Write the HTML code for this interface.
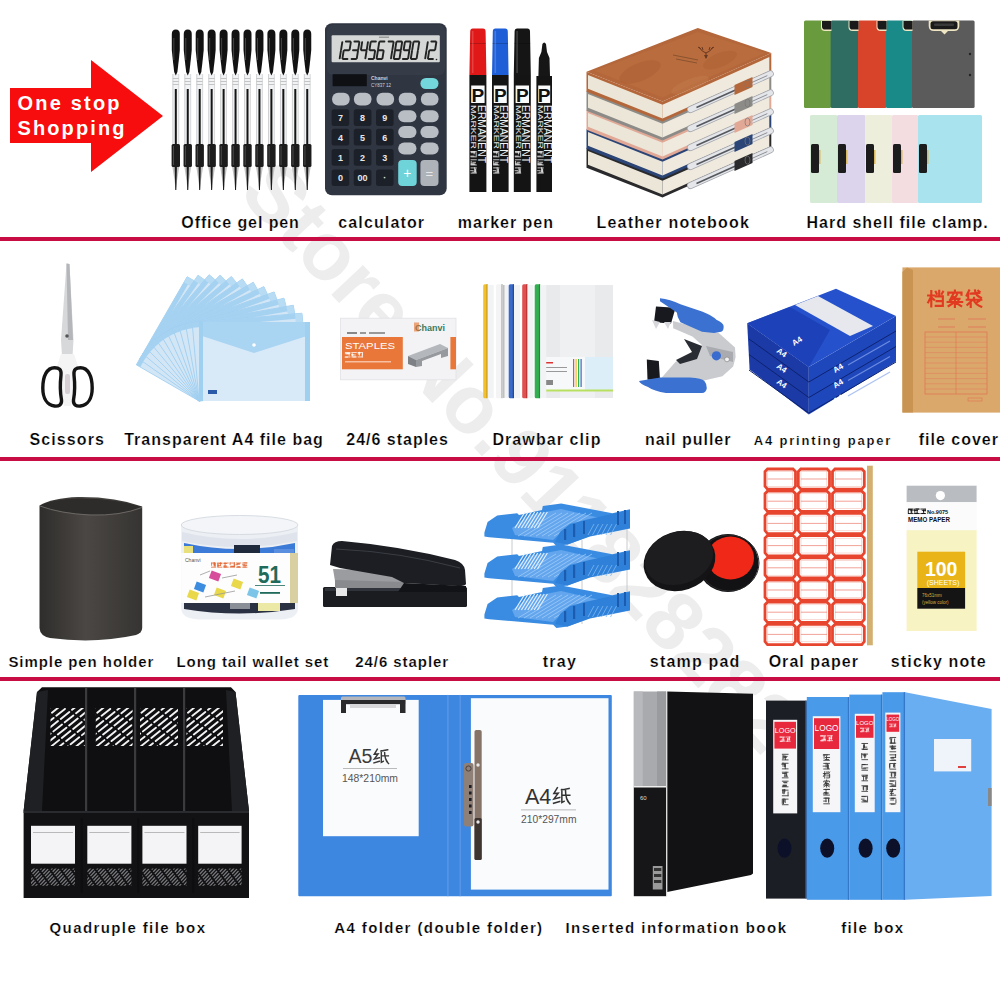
<!DOCTYPE html>
<html><head><meta charset="utf-8">
<style>
html,body{margin:0;padding:0;background:#fff;}
body{width:1000px;height:1000px;overflow:hidden;position:relative;}
svg{position:absolute;left:0;top:0;}
</style></head><body>
<svg width="1000" height="1000" viewBox="0 0 1000 1000">
<rect x="0" y="0" width="1000" height="1000" fill="#fff"/>
<g transform="rotate(-3 469 411)"><text transform="translate(249,182) rotate(50)" font-family="Liberation Sans" font-weight="bold" font-size="82" fill="#ededed">Store No.911828282</text></g>

<g id="pens"><g transform="translate(175.80,0)">
<rect x="-3.4" y="74" width="6.8" height="72" fill="#f2f3f4"/>
<rect x="-3.4" y="74" width="1" height="72" fill="#cfd1d3"/>
<rect x="2.4" y="74" width="1" height="72" fill="#d8dadc"/>
<rect x="-3" y="78" width="6" height="1" fill="#c4c4c4"/><rect x="-3" y="81" width="6" height="1" fill="#c4c4c4"/><rect x="-3" y="84" width="6" height="1" fill="#c4c4c4"/>
<rect x="-1" y="89" width="2" height="57" fill="#151515"/>
<path d="M-4 34 Q-4 29.5 0 29.5 Q4 29.5 4 34 L4 50 L3 60 L1.6 72 L0 75.5 L-1.6 72 L-3 60 L-4 50 Z" fill="#121212"/>
<rect x="-2.4" y="38" width="0.9" height="22" fill="#4a4a4a"/>
<rect x="-4.2" y="144" width="8.4" height="23" rx="1.5" fill="#1c1c1c"/>
<rect x="-2.8" y="146" width="1" height="19" fill="#4a4a4a"/>
<path d="M-3.4 167 L3.4 167 L1.2 181 L0.3 190 L-0.3 190 L-1.2 181 Z" fill="#c2c2c2"/>
<path d="M-1.1 167 L1.1 167 L0.5 190 L-0.5 190 Z" fill="#1a1a1a"/>
</g><g transform="translate(187.75,0)">
<rect x="-3.4" y="74" width="6.8" height="72" fill="#f2f3f4"/>
<rect x="-3.4" y="74" width="1" height="72" fill="#cfd1d3"/>
<rect x="2.4" y="74" width="1" height="72" fill="#d8dadc"/>
<rect x="-3" y="78" width="6" height="1" fill="#c4c4c4"/><rect x="-3" y="81" width="6" height="1" fill="#c4c4c4"/><rect x="-3" y="84" width="6" height="1" fill="#c4c4c4"/>
<rect x="-1" y="89" width="2" height="57" fill="#151515"/>
<path d="M-4 34 Q-4 29.5 0 29.5 Q4 29.5 4 34 L4 50 L3 60 L1.6 72 L0 75.5 L-1.6 72 L-3 60 L-4 50 Z" fill="#121212"/>
<rect x="-2.4" y="38" width="0.9" height="22" fill="#4a4a4a"/>
<rect x="-4.2" y="144" width="8.4" height="23" rx="1.5" fill="#1c1c1c"/>
<rect x="-2.8" y="146" width="1" height="19" fill="#4a4a4a"/>
<path d="M-3.4 167 L3.4 167 L1.2 181 L0.3 190 L-0.3 190 L-1.2 181 Z" fill="#c2c2c2"/>
<path d="M-1.1 167 L1.1 167 L0.5 190 L-0.5 190 Z" fill="#1a1a1a"/>
</g><g transform="translate(199.70,0)">
<rect x="-3.4" y="74" width="6.8" height="72" fill="#f2f3f4"/>
<rect x="-3.4" y="74" width="1" height="72" fill="#cfd1d3"/>
<rect x="2.4" y="74" width="1" height="72" fill="#d8dadc"/>
<rect x="-3" y="78" width="6" height="1" fill="#c4c4c4"/><rect x="-3" y="81" width="6" height="1" fill="#c4c4c4"/><rect x="-3" y="84" width="6" height="1" fill="#c4c4c4"/>
<rect x="-1" y="89" width="2" height="57" fill="#151515"/>
<path d="M-4 34 Q-4 29.5 0 29.5 Q4 29.5 4 34 L4 50 L3 60 L1.6 72 L0 75.5 L-1.6 72 L-3 60 L-4 50 Z" fill="#121212"/>
<rect x="-2.4" y="38" width="0.9" height="22" fill="#4a4a4a"/>
<rect x="-4.2" y="144" width="8.4" height="23" rx="1.5" fill="#1c1c1c"/>
<rect x="-2.8" y="146" width="1" height="19" fill="#4a4a4a"/>
<path d="M-3.4 167 L3.4 167 L1.2 181 L0.3 190 L-0.3 190 L-1.2 181 Z" fill="#c2c2c2"/>
<path d="M-1.1 167 L1.1 167 L0.5 190 L-0.5 190 Z" fill="#1a1a1a"/>
</g><g transform="translate(211.65,0)">
<rect x="-3.4" y="74" width="6.8" height="72" fill="#f2f3f4"/>
<rect x="-3.4" y="74" width="1" height="72" fill="#cfd1d3"/>
<rect x="2.4" y="74" width="1" height="72" fill="#d8dadc"/>
<rect x="-3" y="78" width="6" height="1" fill="#c4c4c4"/><rect x="-3" y="81" width="6" height="1" fill="#c4c4c4"/><rect x="-3" y="84" width="6" height="1" fill="#c4c4c4"/>
<rect x="-1" y="89" width="2" height="57" fill="#151515"/>
<path d="M-4 34 Q-4 29.5 0 29.5 Q4 29.5 4 34 L4 50 L3 60 L1.6 72 L0 75.5 L-1.6 72 L-3 60 L-4 50 Z" fill="#121212"/>
<rect x="-2.4" y="38" width="0.9" height="22" fill="#4a4a4a"/>
<rect x="-4.2" y="144" width="8.4" height="23" rx="1.5" fill="#1c1c1c"/>
<rect x="-2.8" y="146" width="1" height="19" fill="#4a4a4a"/>
<path d="M-3.4 167 L3.4 167 L1.2 181 L0.3 190 L-0.3 190 L-1.2 181 Z" fill="#c2c2c2"/>
<path d="M-1.1 167 L1.1 167 L0.5 190 L-0.5 190 Z" fill="#1a1a1a"/>
</g><g transform="translate(223.60,0)">
<rect x="-3.4" y="74" width="6.8" height="72" fill="#f2f3f4"/>
<rect x="-3.4" y="74" width="1" height="72" fill="#cfd1d3"/>
<rect x="2.4" y="74" width="1" height="72" fill="#d8dadc"/>
<rect x="-3" y="78" width="6" height="1" fill="#c4c4c4"/><rect x="-3" y="81" width="6" height="1" fill="#c4c4c4"/><rect x="-3" y="84" width="6" height="1" fill="#c4c4c4"/>
<rect x="-1" y="89" width="2" height="57" fill="#151515"/>
<path d="M-4 34 Q-4 29.5 0 29.5 Q4 29.5 4 34 L4 50 L3 60 L1.6 72 L0 75.5 L-1.6 72 L-3 60 L-4 50 Z" fill="#121212"/>
<rect x="-2.4" y="38" width="0.9" height="22" fill="#4a4a4a"/>
<rect x="-4.2" y="144" width="8.4" height="23" rx="1.5" fill="#1c1c1c"/>
<rect x="-2.8" y="146" width="1" height="19" fill="#4a4a4a"/>
<path d="M-3.4 167 L3.4 167 L1.2 181 L0.3 190 L-0.3 190 L-1.2 181 Z" fill="#c2c2c2"/>
<path d="M-1.1 167 L1.1 167 L0.5 190 L-0.5 190 Z" fill="#1a1a1a"/>
</g><g transform="translate(235.55,0)">
<rect x="-3.4" y="74" width="6.8" height="72" fill="#f2f3f4"/>
<rect x="-3.4" y="74" width="1" height="72" fill="#cfd1d3"/>
<rect x="2.4" y="74" width="1" height="72" fill="#d8dadc"/>
<rect x="-3" y="78" width="6" height="1" fill="#c4c4c4"/><rect x="-3" y="81" width="6" height="1" fill="#c4c4c4"/><rect x="-3" y="84" width="6" height="1" fill="#c4c4c4"/>
<rect x="-1" y="89" width="2" height="57" fill="#151515"/>
<path d="M-4 34 Q-4 29.5 0 29.5 Q4 29.5 4 34 L4 50 L3 60 L1.6 72 L0 75.5 L-1.6 72 L-3 60 L-4 50 Z" fill="#121212"/>
<rect x="-2.4" y="38" width="0.9" height="22" fill="#4a4a4a"/>
<rect x="-4.2" y="144" width="8.4" height="23" rx="1.5" fill="#1c1c1c"/>
<rect x="-2.8" y="146" width="1" height="19" fill="#4a4a4a"/>
<path d="M-3.4 167 L3.4 167 L1.2 181 L0.3 190 L-0.3 190 L-1.2 181 Z" fill="#c2c2c2"/>
<path d="M-1.1 167 L1.1 167 L0.5 190 L-0.5 190 Z" fill="#1a1a1a"/>
</g><g transform="translate(247.50,0)">
<rect x="-3.4" y="74" width="6.8" height="72" fill="#f2f3f4"/>
<rect x="-3.4" y="74" width="1" height="72" fill="#cfd1d3"/>
<rect x="2.4" y="74" width="1" height="72" fill="#d8dadc"/>
<rect x="-3" y="78" width="6" height="1" fill="#c4c4c4"/><rect x="-3" y="81" width="6" height="1" fill="#c4c4c4"/><rect x="-3" y="84" width="6" height="1" fill="#c4c4c4"/>
<rect x="-1" y="89" width="2" height="57" fill="#151515"/>
<path d="M-4 34 Q-4 29.5 0 29.5 Q4 29.5 4 34 L4 50 L3 60 L1.6 72 L0 75.5 L-1.6 72 L-3 60 L-4 50 Z" fill="#121212"/>
<rect x="-2.4" y="38" width="0.9" height="22" fill="#4a4a4a"/>
<rect x="-4.2" y="144" width="8.4" height="23" rx="1.5" fill="#1c1c1c"/>
<rect x="-2.8" y="146" width="1" height="19" fill="#4a4a4a"/>
<path d="M-3.4 167 L3.4 167 L1.2 181 L0.3 190 L-0.3 190 L-1.2 181 Z" fill="#c2c2c2"/>
<path d="M-1.1 167 L1.1 167 L0.5 190 L-0.5 190 Z" fill="#1a1a1a"/>
</g><g transform="translate(259.45,0)">
<rect x="-3.4" y="74" width="6.8" height="72" fill="#f2f3f4"/>
<rect x="-3.4" y="74" width="1" height="72" fill="#cfd1d3"/>
<rect x="2.4" y="74" width="1" height="72" fill="#d8dadc"/>
<rect x="-3" y="78" width="6" height="1" fill="#c4c4c4"/><rect x="-3" y="81" width="6" height="1" fill="#c4c4c4"/><rect x="-3" y="84" width="6" height="1" fill="#c4c4c4"/>
<rect x="-1" y="89" width="2" height="57" fill="#151515"/>
<path d="M-4 34 Q-4 29.5 0 29.5 Q4 29.5 4 34 L4 50 L3 60 L1.6 72 L0 75.5 L-1.6 72 L-3 60 L-4 50 Z" fill="#121212"/>
<rect x="-2.4" y="38" width="0.9" height="22" fill="#4a4a4a"/>
<rect x="-4.2" y="144" width="8.4" height="23" rx="1.5" fill="#1c1c1c"/>
<rect x="-2.8" y="146" width="1" height="19" fill="#4a4a4a"/>
<path d="M-3.4 167 L3.4 167 L1.2 181 L0.3 190 L-0.3 190 L-1.2 181 Z" fill="#c2c2c2"/>
<path d="M-1.1 167 L1.1 167 L0.5 190 L-0.5 190 Z" fill="#1a1a1a"/>
</g><g transform="translate(271.40,0)">
<rect x="-3.4" y="74" width="6.8" height="72" fill="#f2f3f4"/>
<rect x="-3.4" y="74" width="1" height="72" fill="#cfd1d3"/>
<rect x="2.4" y="74" width="1" height="72" fill="#d8dadc"/>
<rect x="-3" y="78" width="6" height="1" fill="#c4c4c4"/><rect x="-3" y="81" width="6" height="1" fill="#c4c4c4"/><rect x="-3" y="84" width="6" height="1" fill="#c4c4c4"/>
<rect x="-1" y="89" width="2" height="57" fill="#151515"/>
<path d="M-4 34 Q-4 29.5 0 29.5 Q4 29.5 4 34 L4 50 L3 60 L1.6 72 L0 75.5 L-1.6 72 L-3 60 L-4 50 Z" fill="#121212"/>
<rect x="-2.4" y="38" width="0.9" height="22" fill="#4a4a4a"/>
<rect x="-4.2" y="144" width="8.4" height="23" rx="1.5" fill="#1c1c1c"/>
<rect x="-2.8" y="146" width="1" height="19" fill="#4a4a4a"/>
<path d="M-3.4 167 L3.4 167 L1.2 181 L0.3 190 L-0.3 190 L-1.2 181 Z" fill="#c2c2c2"/>
<path d="M-1.1 167 L1.1 167 L0.5 190 L-0.5 190 Z" fill="#1a1a1a"/>
</g><g transform="translate(283.35,0)">
<rect x="-3.4" y="74" width="6.8" height="72" fill="#f2f3f4"/>
<rect x="-3.4" y="74" width="1" height="72" fill="#cfd1d3"/>
<rect x="2.4" y="74" width="1" height="72" fill="#d8dadc"/>
<rect x="-3" y="78" width="6" height="1" fill="#c4c4c4"/><rect x="-3" y="81" width="6" height="1" fill="#c4c4c4"/><rect x="-3" y="84" width="6" height="1" fill="#c4c4c4"/>
<rect x="-1" y="89" width="2" height="57" fill="#151515"/>
<path d="M-4 34 Q-4 29.5 0 29.5 Q4 29.5 4 34 L4 50 L3 60 L1.6 72 L0 75.5 L-1.6 72 L-3 60 L-4 50 Z" fill="#121212"/>
<rect x="-2.4" y="38" width="0.9" height="22" fill="#4a4a4a"/>
<rect x="-4.2" y="144" width="8.4" height="23" rx="1.5" fill="#1c1c1c"/>
<rect x="-2.8" y="146" width="1" height="19" fill="#4a4a4a"/>
<path d="M-3.4 167 L3.4 167 L1.2 181 L0.3 190 L-0.3 190 L-1.2 181 Z" fill="#c2c2c2"/>
<path d="M-1.1 167 L1.1 167 L0.5 190 L-0.5 190 Z" fill="#1a1a1a"/>
</g><g transform="translate(295.30,0)">
<rect x="-3.4" y="74" width="6.8" height="72" fill="#f2f3f4"/>
<rect x="-3.4" y="74" width="1" height="72" fill="#cfd1d3"/>
<rect x="2.4" y="74" width="1" height="72" fill="#d8dadc"/>
<rect x="-3" y="78" width="6" height="1" fill="#c4c4c4"/><rect x="-3" y="81" width="6" height="1" fill="#c4c4c4"/><rect x="-3" y="84" width="6" height="1" fill="#c4c4c4"/>
<rect x="-1" y="89" width="2" height="57" fill="#151515"/>
<path d="M-4 34 Q-4 29.5 0 29.5 Q4 29.5 4 34 L4 50 L3 60 L1.6 72 L0 75.5 L-1.6 72 L-3 60 L-4 50 Z" fill="#121212"/>
<rect x="-2.4" y="38" width="0.9" height="22" fill="#4a4a4a"/>
<rect x="-4.2" y="144" width="8.4" height="23" rx="1.5" fill="#1c1c1c"/>
<rect x="-2.8" y="146" width="1" height="19" fill="#4a4a4a"/>
<path d="M-3.4 167 L3.4 167 L1.2 181 L0.3 190 L-0.3 190 L-1.2 181 Z" fill="#c2c2c2"/>
<path d="M-1.1 167 L1.1 167 L0.5 190 L-0.5 190 Z" fill="#1a1a1a"/>
</g><g transform="translate(307.25,0)">
<rect x="-3.4" y="74" width="6.8" height="72" fill="#f2f3f4"/>
<rect x="-3.4" y="74" width="1" height="72" fill="#cfd1d3"/>
<rect x="2.4" y="74" width="1" height="72" fill="#d8dadc"/>
<rect x="-3" y="78" width="6" height="1" fill="#c4c4c4"/><rect x="-3" y="81" width="6" height="1" fill="#c4c4c4"/><rect x="-3" y="84" width="6" height="1" fill="#c4c4c4"/>
<rect x="-1" y="89" width="2" height="57" fill="#151515"/>
<path d="M-4 34 Q-4 29.5 0 29.5 Q4 29.5 4 34 L4 50 L3 60 L1.6 72 L0 75.5 L-1.6 72 L-3 60 L-4 50 Z" fill="#121212"/>
<rect x="-2.4" y="38" width="0.9" height="22" fill="#4a4a4a"/>
<rect x="-4.2" y="144" width="8.4" height="23" rx="1.5" fill="#1c1c1c"/>
<rect x="-2.8" y="146" width="1" height="19" fill="#4a4a4a"/>
<path d="M-3.4 167 L3.4 167 L1.2 181 L0.3 190 L-0.3 190 L-1.2 181 Z" fill="#c2c2c2"/>
<path d="M-1.1 167 L1.1 167 L0.5 190 L-0.5 190 Z" fill="#1a1a1a"/>
</g></g><g id="calc"><rect x="325" y="23.3" width="121.7" height="172" rx="7" fill="#2f3541"/><rect x="327" y="25" width="118" height="50" rx="6" fill="#353b47"/><rect x="331.6" y="35.3" width="108.2" height="27" rx="1" fill="#d4d7d6"/><path d="M342.29 42.20 L341.11 49.55 M340.89 50.95 L339.71 58.30 M345.85 41.50 L350.25 41.50 M350.84 42.20 L349.66 49.55 M343.05 59.00 L347.45 59.00 M343.64 50.95 L342.46 58.30 M344.45 50.25 L348.85 50.25 M354.40 41.50 L358.80 41.50 M359.39 42.20 L358.21 49.55 M357.99 50.95 L356.81 58.30 M351.60 59.00 L356.00 59.00 M353.00 50.25 L357.40 50.25 M367.94 42.20 L366.76 49.55 M366.54 50.95 L365.36 58.30 M362.14 42.20 L360.96 49.55 M361.55 50.25 L365.95 50.25 M371.50 41.50 L375.90 41.50 M375.09 50.95 L373.91 58.30 M368.70 59.00 L373.10 59.00 M370.69 42.20 L369.51 49.55 M370.10 50.25 L374.50 50.25 M380.05 41.50 L384.45 41.50 M383.64 50.95 L382.46 58.30 M377.25 59.00 L381.65 59.00 M377.84 50.95 L376.66 58.30 M379.24 42.20 L378.06 49.55 M378.65 50.25 L383.05 50.25 M388.60 41.50 L393.00 41.50 M393.59 42.20 L392.41 49.55 M392.19 50.95 L391.01 58.30 M397.15 41.50 L401.55 41.50 M402.14 42.20 L400.96 49.55 M400.74 50.95 L399.56 58.30 M394.35 59.00 L398.75 59.00 M394.94 50.95 L393.76 58.30 M396.34 42.20 L395.16 49.55 M395.75 50.25 L400.15 50.25 M405.70 41.50 L410.10 41.50 M410.69 42.20 L409.51 49.55 M409.29 50.95 L408.11 58.30 M402.90 59.00 L407.30 59.00 M404.89 42.20 L403.71 49.55 M404.30 50.25 L408.70 50.25 M414.25 41.50 L418.65 41.50 M419.24 42.20 L418.06 49.55 M417.84 50.95 L416.66 58.30 M411.45 59.00 L415.85 59.00 M412.04 50.95 L410.86 58.30 M413.44 42.20 L412.26 49.55 M427.79 42.20 L426.61 49.55 M426.39 50.95 L425.21 58.30 M431.35 41.50 L435.75 41.50 M436.34 42.20 L435.16 49.55 M428.55 59.00 L432.95 59.00 M429.14 50.95 L427.96 58.30 M429.95 50.25 L434.35 50.25" stroke="#242424" stroke-width="1.9" stroke-linecap="round" fill="none"/><circle cx="436.5" cy="59.5" r="0.8" fill="#262626"/><rect x="379" y="36.5" width="10" height="1.5" fill="#9a9c9c"/><rect x="332.6" y="74.2" width="34.2" height="12" fill="#0e1014"/><text x="371" y="80" font-family="Liberation Sans" font-weight="bold" font-size="5" fill="#cfd3d8">Chanvi</text><text x="371" y="87" font-family="Liberation Sans" font-size="4.5" fill="#cfd3d8">CY837 12</text><rect x="420.4" y="77.9" width="18.1" height="11.1" rx="5.5" fill="#72d6da"/><rect x="332.1" y="92.7" width="17.6" height="12.9" rx="6" fill="#b9bec4"/><rect x="353.9" y="92.7" width="17.6" height="12.9" rx="6" fill="#b9bec4"/><rect x="376.5" y="92.7" width="17.6" height="12.9" rx="6" fill="#b9bec4"/><rect x="398.7" y="92.7" width="17.6" height="12.9" rx="6" fill="#b9bec4"/><rect x="420.9" y="92.7" width="17.6" height="12.9" rx="6" fill="#b9bec4"/><rect x="331.6" y="109.3" width="17.6" height="16.7" rx="2.5" fill="#1c2028"/><text x="340.40000000000003" y="121.3" text-anchor="middle" font-family="Liberation Sans" font-weight="bold" font-size="9" fill="#e8e8e8">7</text><rect x="353.8" y="109.3" width="17.6" height="16.7" rx="2.5" fill="#1c2028"/><text x="362.6" y="121.3" text-anchor="middle" font-family="Liberation Sans" font-weight="bold" font-size="9" fill="#e8e8e8">8</text><rect x="376" y="109.3" width="17.6" height="16.7" rx="2.5" fill="#1c2028"/><text x="384.8" y="121.3" text-anchor="middle" font-family="Liberation Sans" font-weight="bold" font-size="9" fill="#e8e8e8">9</text><rect x="331.6" y="128.7" width="17.6" height="16.7" rx="2.5" fill="#1c2028"/><text x="340.40000000000003" y="140.7" text-anchor="middle" font-family="Liberation Sans" font-weight="bold" font-size="9" fill="#e8e8e8">4</text><rect x="353.8" y="128.7" width="17.6" height="16.7" rx="2.5" fill="#1c2028"/><text x="362.6" y="140.7" text-anchor="middle" font-family="Liberation Sans" font-weight="bold" font-size="9" fill="#e8e8e8">5</text><rect x="376" y="128.7" width="17.6" height="16.7" rx="2.5" fill="#1c2028"/><text x="384.8" y="140.7" text-anchor="middle" font-family="Liberation Sans" font-weight="bold" font-size="9" fill="#e8e8e8">6</text><rect x="331.6" y="149" width="17.6" height="16.7" rx="2.5" fill="#1c2028"/><text x="340.40000000000003" y="161" text-anchor="middle" font-family="Liberation Sans" font-weight="bold" font-size="9" fill="#e8e8e8">1</text><rect x="353.8" y="149" width="17.6" height="16.7" rx="2.5" fill="#1c2028"/><text x="362.6" y="161" text-anchor="middle" font-family="Liberation Sans" font-weight="bold" font-size="9" fill="#e8e8e8">2</text><rect x="376" y="149" width="17.6" height="16.7" rx="2.5" fill="#1c2028"/><text x="384.8" y="161" text-anchor="middle" font-family="Liberation Sans" font-weight="bold" font-size="9" fill="#e8e8e8">3</text><rect x="331.6" y="169.4" width="17.6" height="16.7" rx="2.5" fill="#1c2028"/><text x="340.40000000000003" y="181.4" text-anchor="middle" font-family="Liberation Sans" font-weight="bold" font-size="9" fill="#e8e8e8">0</text><rect x="353.8" y="169.4" width="17.6" height="16.7" rx="2.5" fill="#1c2028"/><text x="362.6" y="181.4" text-anchor="middle" font-family="Liberation Sans" font-weight="bold" font-size="9" fill="#e8e8e8">00</text><rect x="376" y="169.4" width="17.6" height="16.7" rx="2.5" fill="#1c2028"/><text x="384.8" y="181.4" text-anchor="middle" font-family="Liberation Sans" font-weight="bold" font-size="9" fill="#e8e8e8">·</text><rect x="398.2" y="110.2" width="18.3" height="12" rx="6" fill="#b9bec4"/><rect x="420.4" y="110.2" width="18.3" height="12" rx="6" fill="#b9bec4"/><rect x="398.2" y="126" width="18.3" height="12" rx="6" fill="#b9bec4"/><rect x="420.4" y="126" width="18.3" height="12" rx="6" fill="#b9bec4"/><rect x="398.2" y="142.6" width="18.3" height="12" rx="6" fill="#b9bec4"/><rect x="420.4" y="142.6" width="18.3" height="12" rx="6" fill="#b9bec4"/><rect x="398.2" y="160" width="18.5" height="26" rx="4" fill="#6fd3da"/><text x="407.4" y="178" text-anchor="middle" font-family="Liberation Sans" font-size="14" fill="#fff">+</text><rect x="420.4" y="160" width="18.1" height="26" rx="4" fill="#aeb3b9"/><text x="429.4" y="178" text-anchor="middle" font-family="Liberation Sans" font-size="13" fill="#e8e8e8">=</text></g><g id="markers"><rect x="469.4" y="75" width="17.0" height="117" fill="#141414"/><path d="M470.2 31.5 Q470.2 28.5 472.9 28.5 L482.9 28.5 Q485.59999999999997 28.5 485.59999999999997 31.5 L486.4 75 L469.4 75 Z" fill="#e01818"/><rect x="469.9" y="43" width="16.0" height="0.8" fill="#000" opacity="0.25"/><rect x="471.9" y="31" width="1.6" height="42" fill="#fff" opacity="0.18"/><rect x="471.2" y="85.5" width="13.4" height="17.5" fill="#fafafa"/><text x="477.9" y="101.5" text-anchor="middle" font-family="Liberation Sans" font-weight="bold" font-size="19" fill="#111">P</text><text transform="translate(477.9,105) rotate(90)" font-family="Liberation Sans" font-size="10" fill="#f4f4f4" textLength="58" lengthAdjust="spacingAndGlyphs">ERMANENT</text><text transform="translate(471.09999999999997,105) rotate(90)" font-family="Liberation Sans" font-size="7" fill="#e4e4e4" textLength="44" lengthAdjust="spacingAndGlyphs">MARKER</text><path transform="translate(470.42,151.00) scale(6.50)" d="M0.57 0.09 L0.57 0.44 M0.07 0.79 L0.54 0.79 M0.14 0.26 L0.68 0.26 M0.11 0.12 L0.66 0.12 M0.89 0.28 L0.89 0.75 M0.1 0.1 L0.9 0.1 M0.1 0.9 L0.9 0.9" fill="none" stroke="#e4e4e4" stroke-width="0.13" stroke-linecap="square"/><path transform="translate(470.42,159.12) scale(6.50)" d="M0.37 0.49 L0.78 0.49 M0.22 0.77 L0.69 0.77 M0.11 0.75 L0.48 0.75 M0.37 0.78 L0.67 0.78 M0.12 0.35 L0.12 0.79 M0.1 0.1 L0.9 0.1 M0.1 0.9 L0.9 0.9" fill="none" stroke="#e4e4e4" stroke-width="0.13" stroke-linecap="square"/><path transform="translate(470.42,167.25) scale(6.50)" d="M0.77 0.37 L0.77 0.74 M0.36 0.76 L0.87 0.76 M0.64 0.08 L0.64 0.68 M0.82 0.25 L0.82 0.67 M0.05 0.53 L0.42 0.53 M0.1 0.1 L0.9 0.1 M0.1 0.9 L0.9 0.9" fill="none" stroke="#e4e4e4" stroke-width="0.13" stroke-linecap="square"/><rect x="492" y="75" width="16.600000000000023" height="117" fill="#141414"/><path d="M492.8 31.5 Q492.8 28.5 495.5 28.5 L505.1 28.5 Q507.8 28.5 507.8 31.5 L508.6 75 L492 75 Z" fill="#1e5fd8"/><rect x="492.5" y="43" width="15.600000000000023" height="0.8" fill="#000" opacity="0.25"/><rect x="494.5" y="31" width="1.6" height="42" fill="#fff" opacity="0.18"/><rect x="493.8" y="85.5" width="13.000000000000023" height="17.5" fill="#fafafa"/><text x="500.3" y="101.5" text-anchor="middle" font-family="Liberation Sans" font-weight="bold" font-size="19" fill="#111">P</text><text transform="translate(500.3,105) rotate(90)" font-family="Liberation Sans" font-size="10" fill="#f4f4f4" textLength="58" lengthAdjust="spacingAndGlyphs">ERMANENT</text><text transform="translate(493.66,105) rotate(90)" font-family="Liberation Sans" font-size="7" fill="#e4e4e4" textLength="44" lengthAdjust="spacingAndGlyphs">MARKER</text><path transform="translate(493.00,151.00) scale(6.50)" d="M0.57 0.09 L0.57 0.44 M0.07 0.79 L0.54 0.79 M0.14 0.26 L0.68 0.26 M0.11 0.12 L0.66 0.12 M0.89 0.28 L0.89 0.75 M0.1 0.1 L0.9 0.1 M0.1 0.9 L0.9 0.9" fill="none" stroke="#e4e4e4" stroke-width="0.13" stroke-linecap="square"/><path transform="translate(493.00,159.12) scale(6.50)" d="M0.37 0.49 L0.78 0.49 M0.22 0.77 L0.69 0.77 M0.11 0.75 L0.48 0.75 M0.37 0.78 L0.67 0.78 M0.12 0.35 L0.12 0.79 M0.1 0.1 L0.9 0.1 M0.1 0.9 L0.9 0.9" fill="none" stroke="#e4e4e4" stroke-width="0.13" stroke-linecap="square"/><path transform="translate(493.00,167.25) scale(6.50)" d="M0.77 0.37 L0.77 0.74 M0.36 0.76 L0.87 0.76 M0.64 0.08 L0.64 0.68 M0.82 0.25 L0.82 0.67 M0.05 0.53 L0.42 0.53 M0.1 0.1 L0.9 0.1 M0.1 0.9 L0.9 0.9" fill="none" stroke="#e4e4e4" stroke-width="0.13" stroke-linecap="square"/><rect x="513.8" y="75" width="17.0" height="117" fill="#141414"/><path d="M514.5999999999999 31.5 Q514.5999999999999 28.5 517.3 28.5 L527.3 28.5 Q530.0 28.5 530.0 31.5 L530.8 75 L513.8 75 Z" fill="#151515"/><rect x="514.3" y="43" width="16.0" height="0.8" fill="#000" opacity="0.25"/><rect x="516.3" y="31" width="1.6" height="42" fill="#fff" opacity="0.18"/><rect x="515.5999999999999" y="85.5" width="13.4" height="17.5" fill="#fafafa"/><text x="522.3" y="101.5" text-anchor="middle" font-family="Liberation Sans" font-weight="bold" font-size="19" fill="#111">P</text><text transform="translate(522.3,105) rotate(90)" font-family="Liberation Sans" font-size="10" fill="#f4f4f4" textLength="58" lengthAdjust="spacingAndGlyphs">ERMANENT</text><text transform="translate(515.5,105) rotate(90)" font-family="Liberation Sans" font-size="7" fill="#e4e4e4" textLength="44" lengthAdjust="spacingAndGlyphs">MARKER</text><path transform="translate(514.82,151.00) scale(6.50)" d="M0.57 0.09 L0.57 0.44 M0.07 0.79 L0.54 0.79 M0.14 0.26 L0.68 0.26 M0.11 0.12 L0.66 0.12 M0.89 0.28 L0.89 0.75 M0.1 0.1 L0.9 0.1 M0.1 0.9 L0.9 0.9" fill="none" stroke="#e4e4e4" stroke-width="0.13" stroke-linecap="square"/><path transform="translate(514.82,159.12) scale(6.50)" d="M0.37 0.49 L0.78 0.49 M0.22 0.77 L0.69 0.77 M0.11 0.75 L0.48 0.75 M0.37 0.78 L0.67 0.78 M0.12 0.35 L0.12 0.79 M0.1 0.1 L0.9 0.1 M0.1 0.9 L0.9 0.9" fill="none" stroke="#e4e4e4" stroke-width="0.13" stroke-linecap="square"/><path transform="translate(514.82,167.25) scale(6.50)" d="M0.77 0.37 L0.77 0.74 M0.36 0.76 L0.87 0.76 M0.64 0.08 L0.64 0.68 M0.82 0.25 L0.82 0.67 M0.05 0.53 L0.42 0.53 M0.1 0.1 L0.9 0.1 M0.1 0.9 L0.9 0.9" fill="none" stroke="#e4e4e4" stroke-width="0.13" stroke-linecap="square"/><rect x="536.4" y="76" width="15.600000000000023" height="116" fill="#141414"/><path d="M538.4 76 L538.9 58 L541.4 52 L542.4 44 Q544.2 41 546 44 L547 52 L549.5 58 L550 76 Z" fill="#161616"/><rect x="538.1999999999999" y="85.5" width="12.000000000000023" height="17.5" fill="#fafafa"/><text x="544.2" y="101.5" text-anchor="middle" font-family="Liberation Sans" font-weight="bold" font-size="19" fill="#111">P</text><text transform="translate(544.2,105) rotate(90)" font-family="Liberation Sans" font-size="10" fill="#f4f4f4" textLength="58" lengthAdjust="spacingAndGlyphs">ERMANENT</text><text transform="translate(537.96,105) rotate(90)" font-family="Liberation Sans" font-size="7" fill="#e4e4e4" textLength="44" lengthAdjust="spacingAndGlyphs">MARKER</text><path transform="translate(537.34,151.00) scale(6.50)" d="M0.57 0.09 L0.57 0.44 M0.07 0.79 L0.54 0.79 M0.14 0.26 L0.68 0.26 M0.11 0.12 L0.66 0.12 M0.89 0.28 L0.89 0.75 M0.1 0.1 L0.9 0.1 M0.1 0.9 L0.9 0.9" fill="none" stroke="#e4e4e4" stroke-width="0.13" stroke-linecap="square"/><path transform="translate(537.34,159.12) scale(6.50)" d="M0.37 0.49 L0.78 0.49 M0.22 0.77 L0.69 0.77 M0.11 0.75 L0.48 0.75 M0.37 0.78 L0.67 0.78 M0.12 0.35 L0.12 0.79 M0.1 0.1 L0.9 0.1 M0.1 0.9 L0.9 0.9" fill="none" stroke="#e4e4e4" stroke-width="0.13" stroke-linecap="square"/><path transform="translate(537.34,167.25) scale(6.50)" d="M0.77 0.37 L0.77 0.74 M0.36 0.76 L0.87 0.76 M0.64 0.08 L0.64 0.68 M0.82 0.25 L0.82 0.67 M0.05 0.53 L0.42 0.53 M0.1 0.1 L0.9 0.1 M0.1 0.9 L0.9 0.9" fill="none" stroke="#e4e4e4" stroke-width="0.13" stroke-linecap="square"/></g><g id="notebooks"><polygon points="586.5,147.7 662.5,177.5 771.3,129.0 771.3,149.0 662.5,197.5 586.5,167.7" fill="#2a2a2c" /><polygon points="588.0,150.9 662.5,180.7 662.5,194.5 588.0,164.7" fill="#ebe6d8" /><polygon points="662.5,180.7 769.3,133.1 769.3,146.9 662.5,194.5" fill="#efeadd" /><line x1="690.5" y1="185.5" x2="770.3" y2="149.9" stroke="#a4a7ad" stroke-width="7" stroke-linecap="round"/><line x1="690.5" y1="185.5" x2="770.3" y2="149.9" stroke="#e4e6ea" stroke-width="5.4" stroke-linecap="round"/><line x1="696.5" y1="183.4" x2="735.5" y2="166.0" stroke="#55585e" stroke-width="1.6"/><line x1="740.5" y1="163.5" x2="767.3" y2="151.6" stroke="#8d9096" stroke-width="1"/><polygon points="734.5,160.9 752.5,152.9 752.5,162.9 734.5,170.9" fill="#2a2a2c"/><ellipse cx="747.5" cy="160.1" rx="2.5" ry="4" fill="none" stroke="#777" stroke-width="0.7"/><polygon points="586.5,128.7 662.5,158.5 771.3,110.0 771.3,130.0 662.5,178.5 586.5,148.7" fill="#2b4577" /><polygon points="588.0,131.9 662.5,161.7 662.5,175.5 588.0,145.7" fill="#ebe6d8" /><polygon points="662.5,161.7 769.3,114.1 769.3,127.9 662.5,175.5" fill="#efeadd" /><line x1="690.5" y1="166.5" x2="770.3" y2="130.9" stroke="#a4a7ad" stroke-width="7" stroke-linecap="round"/><line x1="690.5" y1="166.5" x2="770.3" y2="130.9" stroke="#e4e6ea" stroke-width="5.4" stroke-linecap="round"/><line x1="696.5" y1="164.4" x2="735.5" y2="147.0" stroke="#55585e" stroke-width="1.6"/><line x1="740.5" y1="144.5" x2="767.3" y2="132.6" stroke="#8d9096" stroke-width="1"/><polygon points="734.5,141.9 752.5,133.9 752.5,143.9 734.5,151.9" fill="#2b4577"/><ellipse cx="747.5" cy="141.1" rx="2.5" ry="4" fill="none" stroke="#777" stroke-width="0.7"/><polygon points="586.5,109.7 662.5,139.5 771.3,91.0 771.3,111.0 662.5,159.5 586.5,129.7" fill="#e2a896" /><polygon points="588.0,112.9 662.5,142.7 662.5,156.5 588.0,126.7" fill="#ebe6d8" /><polygon points="662.5,142.7 769.3,95.1 769.3,108.9 662.5,156.5" fill="#efeadd" /><line x1="690.5" y1="147.5" x2="770.3" y2="111.9" stroke="#a4a7ad" stroke-width="7" stroke-linecap="round"/><line x1="690.5" y1="147.5" x2="770.3" y2="111.9" stroke="#e4e6ea" stroke-width="5.4" stroke-linecap="round"/><line x1="696.5" y1="145.4" x2="735.5" y2="128.0" stroke="#55585e" stroke-width="1.6"/><line x1="740.5" y1="125.5" x2="767.3" y2="113.6" stroke="#8d9096" stroke-width="1"/><polygon points="734.5,122.9 752.5,114.9 752.5,124.9 734.5,132.9" fill="#e2a896"/><ellipse cx="747.5" cy="122.1" rx="2.5" ry="4" fill="none" stroke="#777" stroke-width="0.7"/><polygon points="586.5,90.7 662.5,120.5 771.3,72.0 771.3,92.0 662.5,140.5 586.5,110.7" fill="#8c8b88" /><polygon points="588.0,93.9 662.5,123.7 662.5,137.5 588.0,107.7" fill="#ebe6d8" /><polygon points="662.5,123.7 769.3,76.1 769.3,89.9 662.5,137.5" fill="#efeadd" /><line x1="690.5" y1="128.5" x2="770.3" y2="92.9" stroke="#a4a7ad" stroke-width="7" stroke-linecap="round"/><line x1="690.5" y1="128.5" x2="770.3" y2="92.9" stroke="#e4e6ea" stroke-width="5.4" stroke-linecap="round"/><line x1="696.5" y1="126.4" x2="735.5" y2="109.0" stroke="#55585e" stroke-width="1.6"/><line x1="740.5" y1="106.5" x2="767.3" y2="94.6" stroke="#8d9096" stroke-width="1"/><polygon points="734.5,103.9 752.5,95.9 752.5,105.9 734.5,113.9" fill="#8c8b88"/><ellipse cx="747.5" cy="103.1" rx="2.5" ry="4" fill="none" stroke="#777" stroke-width="0.7"/><polygon points="586.5,71.7 662.5,101.5 771.3,53.0 771.3,73.0 662.5,121.5 586.5,91.7" fill="#b4673a" /><polygon points="588.0,74.9 662.5,104.7 662.5,118.5 588.0,88.7" fill="#ebe6d8" /><polygon points="662.5,104.7 769.3,57.1 769.3,70.9 662.5,118.5" fill="#efeadd" /><line x1="690.5" y1="109.5" x2="770.3" y2="73.9" stroke="#a4a7ad" stroke-width="7" stroke-linecap="round"/><line x1="690.5" y1="109.5" x2="770.3" y2="73.9" stroke="#e4e6ea" stroke-width="5.4" stroke-linecap="round"/><line x1="696.5" y1="107.4" x2="735.5" y2="90.0" stroke="#55585e" stroke-width="1.6"/><line x1="740.5" y1="87.5" x2="767.3" y2="75.6" stroke="#8d9096" stroke-width="1"/><polygon points="734.5,84.9 752.5,76.9 752.5,86.9 734.5,94.9" fill="#b4673a"/><ellipse cx="747.5" cy="84.1" rx="2.5" ry="4" fill="none" stroke="#777" stroke-width="0.7"/><polygon points="586.5,71.7 697.8,28.0 771.3,53.0 662.5,101.5" fill="#b4673a" /><polygon points="594.5,70.7 697.8,32.0 765.3,53.0 662.5,97.5" fill="#bd7040" opacity="0.6"/><ellipse cx="640" cy="72" rx="22" ry="9" transform="rotate(-22 640 72)" fill="#a45a30" opacity="0.35"/><ellipse cx="720" cy="60" rx="18" ry="7" transform="rotate(-22 720 60)" fill="#a45a30" opacity="0.3"/><ellipse cx="690" cy="85" rx="20" ry="6" transform="rotate(-22 690 85)" fill="#c98052" opacity="0.35"/><path d="M699 47 Q702 52 706 53 Q710 52 713 47 M701 49 l-3 -2 M711 49 l3 -2 M703 50 l-1 -3 M709 50 l1 -3 M706 53 l0 5" stroke="#6a3820" stroke-width="1" fill="none"/><path d="M704 55 L708 55 L706 59 Z" fill="#6a3820"/><path d="M673 55 L698 60 M676 59 L697 63" stroke="#7e4c2c" stroke-width="0.8"/></g><g id="clipboards"><rect x="804" y="20.5" width="27" height="87.5" rx="1.5" fill="#6a9a3e"/><rect x="830.6" y="20.5" width="27.899999999999977" height="87.5" rx="1.5" fill="#2f6d62"/><rect x="858" y="20.5" width="28.5" height="87.5" rx="1.5" fill="#d8442a"/><rect x="886" y="20.5" width="26.5" height="87.5" rx="1.5" fill="#198a87"/><rect x="912" y="20.5" width="62.60000000000002" height="87.5" rx="1.5" fill="#5b5b5c"/><path d="M821 20.5 L821 27 Q821 31 825 31 L831.5 31 L831.5 20.5 Z" fill="#efe6c4"/><path d="M822 21 L822 26.5 Q822 29.6 825 29.6 L831.5 29.6 L831.5 21 Z" fill="#1a1a1a"/><path d="M848.5 20.5 L848.5 27 Q848.5 31 852.5 31 L858.5 31 L858.5 20.5 Z" fill="#efe6c4"/><path d="M849.5 21 L849.5 26.5 Q849.5 29.6 852.5 29.6 L858.5 29.6 L858.5 21 Z" fill="#1a1a1a"/><path d="M876.5 20.5 L876.5 27 Q876.5 31 880.5 31 L886.5 31 L886.5 20.5 Z" fill="#efe6c4"/><path d="M877.5 21 L877.5 26.5 Q877.5 29.6 880.5 29.6 L886.5 29.6 L886.5 21 Z" fill="#1a1a1a"/><path d="M902.5 20.5 L902.5 27 Q902.5 31 906.5 31 L912.5 31 L912.5 20.5 Z" fill="#efe6c4"/><path d="M903.5 21 L903.5 26.5 Q903.5 29.6 906.5 29.6 L912.5 29.6 L912.5 21 Z" fill="#1a1a1a"/><path d="M928.7 20.5 L928.7 26 Q928.7 31 934 31 L954 31 Q959.3 31 959.3 26 L959.3 20.5 Z" fill="#efe6c4"/><path d="M941 31 L944.5 34.5 L948 31 Z" fill="#efe6c4"/><rect x="930.5" y="21.3" width="27" height="8" rx="2.5" fill="#1a1a1a"/><rect x="934" y="23.5" width="20" height="2.5" rx="1" fill="#3a3a3a"/><circle cx="970" cy="54" r="1.2" fill="#222"/><circle cx="970" cy="75" r="1.2" fill="#222"/><rect x="810" y="115" width="27.5" height="88" rx="1.5" fill="#d6ebd6"/><rect x="837" y="115" width="28.5" height="88" rx="1.5" fill="#dcd3ec"/><rect x="865" y="115" width="27.5" height="88" rx="1.5" fill="#eeeedc"/><rect x="892" y="115" width="26.5" height="88" rx="1.5" fill="#f4dde1"/><rect x="918" y="115" width="64" height="88" rx="1.5" fill="#a9e3ee"/><rect x="811" y="144" width="8" height="29" rx="1.5" fill="#1c1c1c"/><rect x="819" y="150" width="1.5" height="14" fill="#d8b860"/><rect x="838" y="144" width="8" height="29" rx="1.5" fill="#1c1c1c"/><rect x="846" y="150" width="1.5" height="14" fill="#d8b860"/><rect x="866" y="144" width="8" height="29" rx="1.5" fill="#1c1c1c"/><rect x="874" y="150" width="1.5" height="14" fill="#d8b860"/><rect x="893" y="144" width="8" height="29" rx="1.5" fill="#1c1c1c"/><rect x="901" y="150" width="1.5" height="14" fill="#d8b860"/><rect x="919" y="144" width="8" height="29" rx="1.5" fill="#1c1c1c"/><rect x="927" y="150" width="1.5" height="14" fill="#d8b860"/></g><g id="scissors"><path d="M66.5 263.5 L69.5 264 L73.5 340 L72.5 356 L62 356 L61 340 Z" fill="#d6d8da"/><path d="M66.5 263.5 L69.5 264 L73 340 L68 340 Z" fill="#b4b6b9"/><circle cx="67" cy="336" r="1.8" fill="#555"/><path d="M61 354 L74 354 L78 366 L71 406 L64 406 L57 366 Z" fill="#f4f4f4"/><path d="M54.5 367.8 C59 367.8 61.6 369.5 61 375 C60.2 382 60 392 61.5 400 C62 405 58.5 406.5 54.5 406 C47 405 42.8 398 42.8 388 C42.8 376 47 367.8 54.5 367.8 Z" fill="#fff" stroke="#141414" stroke-width="3.4"/><path d="M80.5 367.8 C76 367.8 73.4 369.5 74 375 C74.8 382 75 392 73.5 400 C73 405 76.5 406.5 80.5 406 C88 405 92.2 398 92.2 388 C92.2 376 88 367.8 80.5 367.8 Z" fill="#fff" stroke="#141414" stroke-width="3.4"/><rect x="65" y="374" width="5" height="20" rx="2" fill="#d6d0d4"/></g><g id="filebags"><g transform="translate(199 401) rotate(-60.0) scale(0.916) translate(-199 -401)"><rect x="199" y="322" width="111" height="79" fill="#d2e6f6" stroke="#9ccdf0" stroke-width="0.8"/><rect x="199" y="322" width="111" height="5" fill="#a6d2f2"/><rect x="303" y="322" width="7" height="79" fill="#b8dcf4"/></g><g transform="translate(199 401) rotate(-55.0) scale(0.923) translate(-199 -401)"><rect x="199" y="322" width="111" height="79" fill="#d2e6f6" stroke="#9ccdf0" stroke-width="0.8"/><rect x="199" y="322" width="111" height="5" fill="#a6d2f2"/><rect x="303" y="322" width="7" height="79" fill="#b8dcf4"/></g><g transform="translate(199 401) rotate(-50.0) scale(0.930) translate(-199 -401)"><rect x="199" y="322" width="111" height="79" fill="#d2e6f6" stroke="#9ccdf0" stroke-width="0.8"/><rect x="199" y="322" width="111" height="5" fill="#a6d2f2"/><rect x="303" y="322" width="7" height="79" fill="#b8dcf4"/></g><g transform="translate(199 401) rotate(-45.0) scale(0.937) translate(-199 -401)"><rect x="199" y="322" width="111" height="79" fill="#d2e6f6" stroke="#9ccdf0" stroke-width="0.8"/><rect x="199" y="322" width="111" height="5" fill="#a6d2f2"/><rect x="303" y="322" width="7" height="79" fill="#b8dcf4"/></g><g transform="translate(199 401) rotate(-40.0) scale(0.944) translate(-199 -401)"><rect x="199" y="322" width="111" height="79" fill="#d2e6f6" stroke="#9ccdf0" stroke-width="0.8"/><rect x="199" y="322" width="111" height="5" fill="#a6d2f2"/><rect x="303" y="322" width="7" height="79" fill="#b8dcf4"/></g><g transform="translate(199 401) rotate(-35.0) scale(0.951) translate(-199 -401)"><rect x="199" y="322" width="111" height="79" fill="#d2e6f6" stroke="#9ccdf0" stroke-width="0.8"/><rect x="199" y="322" width="111" height="5" fill="#a6d2f2"/><rect x="303" y="322" width="7" height="79" fill="#b8dcf4"/></g><g transform="translate(199 401) rotate(-30.0) scale(0.958) translate(-199 -401)"><rect x="199" y="322" width="111" height="79" fill="#d2e6f6" stroke="#9ccdf0" stroke-width="0.8"/><rect x="199" y="322" width="111" height="5" fill="#a6d2f2"/><rect x="303" y="322" width="7" height="79" fill="#b8dcf4"/></g><g transform="translate(199 401) rotate(-25.0) scale(0.965) translate(-199 -401)"><rect x="199" y="322" width="111" height="79" fill="#d2e6f6" stroke="#9ccdf0" stroke-width="0.8"/><rect x="199" y="322" width="111" height="5" fill="#a6d2f2"/><rect x="303" y="322" width="7" height="79" fill="#b8dcf4"/></g><g transform="translate(199 401) rotate(-20.0) scale(0.972) translate(-199 -401)"><rect x="199" y="322" width="111" height="79" fill="#d2e6f6" stroke="#9ccdf0" stroke-width="0.8"/><rect x="199" y="322" width="111" height="5" fill="#a6d2f2"/><rect x="303" y="322" width="7" height="79" fill="#b8dcf4"/></g><g transform="translate(199 401) rotate(-15.0) scale(0.979) translate(-199 -401)"><rect x="199" y="322" width="111" height="79" fill="#d2e6f6" stroke="#9ccdf0" stroke-width="0.8"/><rect x="199" y="322" width="111" height="5" fill="#a6d2f2"/><rect x="303" y="322" width="7" height="79" fill="#b8dcf4"/></g><g transform="translate(199 401) rotate(-10.0) scale(0.986) translate(-199 -401)"><rect x="199" y="322" width="111" height="79" fill="#d2e6f6" stroke="#9ccdf0" stroke-width="0.8"/><rect x="199" y="322" width="111" height="5" fill="#a6d2f2"/><rect x="303" y="322" width="7" height="79" fill="#b8dcf4"/></g><g transform="translate(199 401) rotate(-5.0) scale(0.993) translate(-199 -401)"><rect x="199" y="322" width="111" height="79" fill="#d2e6f6" stroke="#9ccdf0" stroke-width="0.8"/><rect x="199" y="322" width="111" height="5" fill="#a6d2f2"/><rect x="303" y="322" width="7" height="79" fill="#b8dcf4"/></g><rect x="199" y="322" width="111" height="79" fill="#d8eaf8"/><path d="M199 322 L310 322 L310 335 L254 353 L199 335 Z" fill="#a9d4f2"/><rect x="199" y="322" width="4" height="79" fill="#a0d0f0"/><rect x="305" y="322" width="5" height="79" fill="#a0d0f0"/><circle cx="254" cy="345" r="1.8" fill="#fff"/><rect x="208" y="390" width="9" height="4" fill="#2a5aa8"/></g><g id="staples"><rect x="340.5" y="318.2" width="115.5" height="61.6" fill="#f3f3f5" stroke="#e2e2e6" stroke-width="0.8"/><rect x="342" y="337" width="60.8" height="32.3" fill="#e9773a"/><rect x="450.4" y="337" width="5.6" height="32.3" fill="#e9773a"/><text x="345" y="349" font-family="Liberation Sans" font-size="9.5" fill="#fff" textLength="50" lengthAdjust="spacingAndGlyphs">STAPLES</text><path transform="translate(345.00,352.00) scale(5.50)" d="M0.39 0.27 L0.87 0.27 M0.18 0.35 L0.62 0.35 M0.06 0.21 L0.60 0.21 M0.03 0.93 L0.46 0.93 M0.76 0.18 L0.76 0.59 M0.1 0.1 L0.9 0.1 M0.1 0.9 L0.9 0.9" fill="none" stroke="#fff" stroke-width="0.14" stroke-linecap="square"/><path transform="translate(351.32,352.00) scale(5.50)" d="M0.15 0.34 L0.15 0.65 M0.19 0.38 L0.19 0.71 M0.27 0.54 L0.71 0.54 M0.33 0.90 L0.73 0.90 M0.05 0.50 L0.35 0.50 M0.1 0.1 L0.9 0.1 M0.1 0.9 L0.9 0.9" fill="none" stroke="#fff" stroke-width="0.14" stroke-linecap="square"/><path transform="translate(357.65,352.00) scale(5.50)" d="M0.07 0.19 L0.45 0.19 M0.32 0.06 L0.32 0.58 M0.89 0.23 L0.89 0.59 M0.83 0.39 L0.83 0.87 M0.25 0.10 L0.25 0.46 M0.1 0.1 L0.9 0.1 M0.1 0.9 L0.9 0.9" fill="none" stroke="#fff" stroke-width="0.14" stroke-linecap="square"/><rect x="345" y="361" width="46" height="1.5" fill="#f8c0a0"/><text x="415" y="331" font-family="Liberation Sans" font-weight="bold" font-size="9" fill="#3a7a60">Chanvi</text><rect x="414" y="322.5" width="5" height="9" fill="#e8702a" opacity="0.6"/><path d="M408 356 L440 344 L448 348 L416 360 Z" fill="#b4b7bb"/><path d="M408 356 L416 360 L416 367 L408 364 Z" fill="#7d8085"/><path d="M416 360 L448 348 L448 356 L441 358 L441 354 L422 361 L422 366 L416 367 Z" fill="#96999e"/><rect x="347" y="332" width="10" height="2" fill="#888"/><rect x="360" y="332" width="6" height="2" fill="#999"/><rect x="369" y="332" width="16" height="2" fill="#999"/></g><g id="drawbar"><rect x="540" y="285" width="73" height="113" fill="#e9eaec"/><rect x="560" y="285" width="35" height="113" fill="#eef0f2"/><rect x="541" y="357" width="72" height="33" fill="#f6f8fa"/><rect x="585" y="357" width="28" height="33" fill="#dceef8"/><rect x="573.0" y="359" width="1.2" height="28" fill="#e05050"/><rect x="575.5" y="359" width="1.2" height="28" fill="#f0c030"/><rect x="578.0" y="359" width="1.2" height="28" fill="#30b050"/><rect x="580.5" y="359" width="1.2" height="28" fill="#3a6ac8"/><rect x="545" y="362" width="8" height="1.5" fill="#d33"/><rect x="545" y="367" width="22" height="1" fill="#999"/><rect x="545" y="371" width="22" height="1" fill="#999"/><rect x="545" y="380" width="8" height="5" fill="#888"/><rect x="541" y="389.5" width="72" height="2" fill="#b8e060"/><rect x="483.2" y="284.2" width="4.5" height="114" rx="1.5" fill="#f0c030"/><rect x="486.4" y="284.2" width="1.3" height="114" fill="#c89a18"/><rect x="487.7" y="285" width="6" height="113" fill="#f2f3f5"/><rect x="496" y="284.2" width="6.699999999999989" height="114" rx="1.5" fill="#f4f4f4"/><rect x="501.4" y="284.2" width="1.3" height="114" fill="#aaaaaa"/><rect x="502.7" y="285" width="6" height="113" fill="#f2f3f5"/><rect x="508.7" y="284.2" width="5.300000000000011" height="114" rx="1.5" fill="#3a6ac8"/><rect x="512.7" y="284.2" width="1.3" height="114" fill="#24489a"/><rect x="514" y="285" width="6" height="113" fill="#f2f3f5"/><rect x="522.2" y="284.2" width="5.2999999999999545" height="114" rx="1.5" fill="#e05050"/><rect x="526.2" y="284.2" width="1.3" height="114" fill="#b83030"/><rect x="527.5" y="285" width="6" height="113" fill="#f2f3f5"/><rect x="534.7" y="284.2" width="5.5" height="114" rx="1.5" fill="#30b050"/><rect x="538.9000000000001" y="284.2" width="1.3" height="114" fill="#1f8a38"/><rect x="540.2" y="285" width="6" height="113" fill="#f2f3f5"/><rect x="502.7" y="285" width="1.8" height="113" fill="#c0c0c0"/></g><g id="nailpuller"><path d="M673 321 L718.8 333 L735 347.4 L735.6 357 L733.2 366.6 L722.4 376.2 L702 381 L658.8 381 L675.6 361.8 L697.2 352.2 L702 345 L692.4 336.6 L673.2 328.2 Z" fill="#c9cbcf"/><path d="M684 339 L702 346 L697 359 L680 364 L676 360 L692 352 Z" fill="#2a2c34"/><path d="M706 346 L733 352 L733 362 L710 356 Z" fill="#a9abb0"/><path d="M656 306.6 L675.6 307.8 L671 323.4 L654 322.2 Z" fill="#17191e"/><path d="M652 320 L656 329 L660 322 Z M664 322 L668 329 L671 322 Z" fill="#d8d8dc"/><path d="M646.8 359.4 L658.8 361 L660 379.8 L647.5 379.8 Z" fill="#17191e"/><path d="M660 298.2 Q670 299 680.4 304.2 L702 311.4 Q712 315 716.4 319.8 Q723 323 723.6 325.8 Q724 331 721.2 331.8 L714 333 L702 331.8 L680.4 322.2 Q677 317 676.8 312.6 L660 301.2 Z" fill="#3b72d2"/><path d="M639 381 L660 377.4 L690 377.4 Q702 378 704.4 381 Q707 384 706.8 388.2 Q706 393 702 393 L666 393 Q654 391 648 387 Q640 384 639 381 Z" fill="#3b72d2"/><circle cx="716.4" cy="355.8" r="4.6" fill="#3a6cd0"/><circle cx="727" cy="359.4" r="2.4" fill="#f2f2f2" stroke="#888" stroke-width="0.7"/></g><g id="a4paper"><polygon points="747.2,323.2 808.8,367 808.8,414.4 749.6,369.6" fill="#1b3aa6"/><polygon points="808.8,367 896,316 896,361.6 808.8,414.4" fill="#1f47bc"/><polygon points="747.2,323.2 836,288.8 896,316 808.8,367" fill="#2552cc"/><polygon points="795,305 818,296 873,326 850,336" fill="#e6e8ee"/><polygon points="747.2,323.2 790,307 830,330 808.8,367" fill="#1c3eb4" opacity="0.85"/><line x1="749" y1="339.0" x2="808.8" y2="382.0" stroke="#0d2270" stroke-width="1"/><line x1="808.8" y1="382.0" x2="896" y2="331.0" stroke="#0d2270" stroke-width="1"/><text x="776" y="352.0" font-family="Liberation Sans" font-weight="bold" font-size="8" fill="#fff" transform="rotate(34 776 352.0)">A4</text><text x="835" y="373.0" font-family="Liberation Sans" font-weight="bold" font-size="8" fill="#fff" transform="rotate(-30 835 373.0)">A4</text><line x1="848" y1="365.0" x2="890" y2="341.0" stroke="#8aa8f0" stroke-width="1.2" opacity="0.7"/><line x1="749" y1="354.5" x2="808.8" y2="397.5" stroke="#0d2270" stroke-width="1"/><line x1="808.8" y1="397.5" x2="896" y2="346.5" stroke="#0d2270" stroke-width="1"/><text x="776" y="367.5" font-family="Liberation Sans" font-weight="bold" font-size="8" fill="#fff" transform="rotate(34 776 367.5)">A4</text><text x="835" y="388.5" font-family="Liberation Sans" font-weight="bold" font-size="8" fill="#fff" transform="rotate(-30 835 388.5)">A4</text><line x1="848" y1="380.5" x2="890" y2="356.5" stroke="#8aa8f0" stroke-width="1.2" opacity="0.7"/><line x1="749" y1="370.0" x2="808.8" y2="413.0" stroke="#0d2270" stroke-width="1"/><line x1="808.8" y1="413.0" x2="896" y2="362.0" stroke="#0d2270" stroke-width="1"/><text x="776" y="383.0" font-family="Liberation Sans" font-weight="bold" font-size="8" fill="#fff" transform="rotate(34 776 383.0)">A4</text><text x="835" y="404.0" font-family="Liberation Sans" font-weight="bold" font-size="8" fill="#fff" transform="rotate(-30 835 404.0)">A4</text><line x1="848" y1="396.0" x2="890" y2="372.0" stroke="#8aa8f0" stroke-width="1.2" opacity="0.7"/><text x="794" y="346" font-family="Liberation Sans" font-weight="bold" font-size="8" fill="#fff" transform="rotate(-32 794 346)">A4</text></g><g id="filecover"><rect x="902.4" y="267.4" width="97.6" height="145.2" fill="#dba86c"/><path d="M902.4 272 L907 267.4 L913 270 L913 412.6 L902.4 412.6 Z" fill="#c99352"/><path transform="translate(927.50,290.50) scale(16.50)" d="M0.04 0.3 L0.42 0.3 M0.23 0.04 L0.23 0.96 M0.22 0.36 L0.04 0.72 M0.25 0.42 L0.4 0.56 M0.5 0.08 L0.56 0.2 M0.71 0.02 L0.71 0.26 M0.94 0.08 L0.87 0.2 M0.5 0.36 L0.93 0.36 L0.93 0.93 L0.5 0.93 M0.55 0.64 L0.93 0.64" fill="none" stroke="#e23a20" stroke-width="0.13" stroke-linecap="square"/><path transform="translate(946.64,290.50) scale(16.50)" d="M0.5 0 L0.5 0.1 M0.1 0.25 L0.1 0.13 L0.9 0.13 L0.9 0.25 M0.42 0.18 L0.25 0.5 L0.78 0.5 M0.62 0.26 Q0.56 0.46 0.2 0.6 M0.36 0.36 L0.72 0.58 M0.06 0.7 L0.94 0.7 M0.5 0.56 L0.5 1 M0.47 0.72 L0.12 0.94 M0.53 0.72 L0.88 0.94" fill="none" stroke="#e23a20" stroke-width="0.13" stroke-linecap="square"/><path transform="translate(965.78,290.50) scale(16.50)" d="M0.2 0 L0.05 0.3 M0.15 0.16 L0.15 0.46 M0.3 0.19 L0.82 0.14 M0.56 0 Q0.6 0.3 0.92 0.44 M0.76 0.02 L0.84 0.08 M0.5 0.44 L0.5 0.52 M0.06 0.56 L0.94 0.56 M0.42 0.56 L0.1 0.86 M0.3 0.72 L0.3 1 M0.5 0.62 Q0.62 0.86 0.94 0.98 M0.82 0.62 L0.6 0.76" fill="none" stroke="#e23a20" stroke-width="0.13" stroke-linecap="square"/><line x1="938" y1="319" x2="955" y2="319" stroke="#e06a50" stroke-width="0.7"/><line x1="968" y1="319" x2="986" y2="319" stroke="#e06a50" stroke-width="0.7"/><line x1="938" y1="327" x2="955" y2="327" stroke="#e06a50" stroke-width="0.7"/><line x1="968" y1="327" x2="986" y2="327" stroke="#e06a50" stroke-width="0.7"/><rect x="925" y="332" width="62" height="62" fill="none" stroke="#e07050" stroke-width="0.7"/><line x1="925" y1="337.0" x2="987" y2="337.0" stroke="#e07a5a" stroke-width="0.5"/><line x1="925" y1="342.2" x2="987" y2="342.2" stroke="#e07a5a" stroke-width="0.5"/><line x1="925" y1="347.4" x2="987" y2="347.4" stroke="#e07a5a" stroke-width="0.5"/><line x1="925" y1="352.6" x2="987" y2="352.6" stroke="#e07a5a" stroke-width="0.5"/><line x1="925" y1="357.8" x2="987" y2="357.8" stroke="#e07a5a" stroke-width="0.5"/><line x1="925" y1="363.0" x2="987" y2="363.0" stroke="#e07a5a" stroke-width="0.5"/><line x1="925" y1="368.2" x2="987" y2="368.2" stroke="#e07a5a" stroke-width="0.5"/><line x1="925" y1="373.4" x2="987" y2="373.4" stroke="#e07a5a" stroke-width="0.5"/><line x1="925" y1="378.6" x2="987" y2="378.6" stroke="#e07a5a" stroke-width="0.5"/><line x1="925" y1="383.8" x2="987" y2="383.8" stroke="#e07a5a" stroke-width="0.5"/><line x1="925" y1="389.0" x2="987" y2="389.0" stroke="#e07a5a" stroke-width="0.5"/><line x1="956" y1="332" x2="956" y2="394" stroke="#e07050" stroke-width="0.6"/><rect x="968" y="398" width="14" height="3" fill="none" stroke="#e07050" stroke-width="0.6"/></g><g id="penholder"><defs><linearGradient id="phg" x1="0" x2="1" y1="0" y2="0"><stop offset="0" stop-color="#2f2d2b"/><stop offset="0.45" stop-color="#4a4744"/><stop offset="1" stop-color="#363432"/></linearGradient></defs><path d="M39.5 505.5 Q52 498 78 497 Q115 496.5 142.2 506.5 L142.2 628 Q142 633 136 635 Q95 644 50 638 Q40 636 39.5 628 Z" fill="url(#phg)"/><path d="M40.5 505.5 Q53 499.5 78 498.5 Q114 498 141.2 507 Q120 516 90 514.5 Q60 513 40.5 505.5 Z" fill="#2e2c2a"/><path d="M40 506 Q60 513.5 90 515 Q120 516 142 507.5" fill="none" stroke="#6a6764" stroke-width="1"/></g><g id="clipjar"><path d="M181.2 526 L181.2 608 Q181.2 619 200 619.5 L280 619.5 Q298 619 298 608 L298 526 Z" fill="#eceff3"/><ellipse cx="239.6" cy="525" rx="58.4" ry="9.5" fill="#f3f5f8" stroke="#d4d9e0" stroke-width="0.9"/><path d="M182 532 Q239.6 546 297 532 L297 541 Q239.6 553 182 541 Z" fill="#dfe4ec"/><path d="M184 543 Q239.6 555 295 543 L295 556 L184 556 Z" fill="#3b7ad6"/><rect x="234" y="545" width="26" height="11" fill="#1f2a3c"/><rect x="184" y="546" width="9" height="9" fill="#e8e07a"/><rect x="274" y="549" width="20" height="7" fill="#5a8fe0"/><path d="M184 602 L295 602 L295 609 Q239.6 618 184 609 Z" fill="#2a3142"/><rect x="258" y="602" width="22" height="9" fill="#ece8a6"/><rect x="230" y="603" width="20" height="6" fill="#8a8e96"/><rect x="181.2" y="553" width="109" height="50" fill="#fdfdfd"/><rect x="290" y="553" width="8" height="50" fill="#d8d0a0"/><path transform="translate(211.00,562.50) scale(5.20)" d="M0.85 0.23 L0.85 0.69 M0.12 0.14 L0.12 0.54 M0.59 0.01 L0.59 0.40 M0.65 0.09 L0.65 0.64 M0.63 0.22 L0.63 0.68 M0.1 0.1 L0.9 0.1 M0.1 0.9 L0.9 0.9" fill="none" stroke="#e0602a" stroke-width="0.15" stroke-linecap="square"/><path transform="translate(217.24,562.50) scale(5.20)" d="M0.18 0.58 L0.60 0.58 M0.36 0.22 L0.88 0.22 M0.18 0.33 L0.18 0.80 M0.64 0.05 L0.64 0.53 M0.09 0.17 L0.09 0.75 M0.1 0.1 L0.9 0.1 M0.1 0.9 L0.9 0.9" fill="none" stroke="#e0602a" stroke-width="0.15" stroke-linecap="square"/><path transform="translate(223.48,562.50) scale(5.20)" d="M0.13 0.60 L0.49 0.60 M0.12 0.85 L0.46 0.85 M0.31 0.10 L0.31 0.44 M0.10 0.20 L0.59 0.20 M0.12 0.82 L0.62 0.82 M0.1 0.1 L0.9 0.1 M0.1 0.9 L0.9 0.9" fill="none" stroke="#e0602a" stroke-width="0.15" stroke-linecap="square"/><path transform="translate(229.72,562.50) scale(5.20)" d="M0.88 0.29 L0.88 0.81 M0.38 0.76 L0.90 0.76 M0.89 0.03 L0.89 0.60 M0.08 0.07 L0.08 0.40 M0.16 0.73 L0.70 0.73 M0.1 0.1 L0.9 0.1 M0.1 0.9 L0.9 0.9" fill="none" stroke="#e0602a" stroke-width="0.15" stroke-linecap="square"/><path transform="translate(235.96,562.50) scale(5.20)" d="M0.01 0.43 L0.34 0.43 M0.35 0.84 L0.71 0.84 M0.28 0.22 L0.64 0.22 M0.20 0.32 L0.67 0.32 M0.36 0.87 L0.70 0.87 M0.1 0.1 L0.9 0.1 M0.1 0.9 L0.9 0.9" fill="none" stroke="#e0602a" stroke-width="0.15" stroke-linecap="square"/><path transform="translate(242.20,562.50) scale(5.20)" d="M0.31 0.85 L0.68 0.85 M0.32 0.53 L0.86 0.53 M0.37 0.07 L0.87 0.07 M0.05 0.45 L0.46 0.45 M0.27 0.51 L0.82 0.51 M0.1 0.1 L0.9 0.1 M0.1 0.9 L0.9 0.9" fill="none" stroke="#e0602a" stroke-width="0.15" stroke-linecap="square"/><text x="185" y="562" font-family="Liberation Sans" font-size="5" fill="#555">Chanvi</text><text x="258" y="582.5" font-family="Liberation Sans" font-weight="bold" font-size="23" fill="#1f6a5a" textLength="23" lengthAdjust="spacingAndGlyphs">51</text><rect x="255" y="585" width="30" height="0.8" fill="#1f6a5a"/><rect x="260" y="592" width="20" height="1.8" fill="#1f6a5a"/><rect x="210" y="572" width="10" height="8" fill="#d84c9c" transform="rotate(20 215 576)"/><rect x="195" y="583" width="10" height="8" fill="#3c8ce0" transform="rotate(20 200 587)"/><rect x="215" y="589" width="10" height="8" fill="#e8d84a" transform="rotate(20 220 593)"/><rect x="232" y="580" width="10" height="8" fill="#e8d84a" transform="rotate(20 237 584)"/><rect x="248" y="589" width="10" height="8" fill="#7cc4e8" transform="rotate(20 253 593)"/><rect x="188" y="591" width="10" height="8" fill="#e8d84a" transform="rotate(20 193 595)"/><path d="M200 575 l10 -4 M222 578 l15 -3 M205 597 l30 -6" stroke="#999" stroke-width="0.8"/></g><g id="stapler"><rect x="323" y="587" width="144" height="20" rx="1.5" fill="#1a1c20"/><rect x="325" y="588" width="140" height="3" fill="#30333a"/><path d="M333 569 L405 571 L410 582 L336 587 Z" fill="#9a9ca0"/><path d="M335 580 L404 582 L406 588 L335 588 Z" fill="#888a8e"/><rect x="336" y="588" width="11" height="8" fill="#e8e8e8"/><path d="M330 565 L332 546 Q334 541 342 541 Q400 546 455 560 Q464 563 465 570 L466 584 Q465 586 458 586 L404 583 L392 577 L340 568 Z" fill="#1c1e23"/><path d="M336 549 Q400 552 460 568" fill="none" stroke="#3a3d44" stroke-width="1.2"/><path d="M404 583 L466 586 L466 592 L398 592 Z" fill="#121316"/></g><g id="tray"><line x1="512" y1="536" x2="512" y2="612" stroke="#c0c4c8" stroke-width="0.9"/><line x1="582" y1="540" x2="582" y2="624" stroke="#c0c4c8" stroke-width="0.9"/><line x1="627" y1="527" x2="627" y2="592" stroke="#c0c4c8" stroke-width="0.9"/><polygon points="484.4,614.4 487.6,604.0 497.2,597.6 517.2,595.2 519.0,597.0 542.0,592.0 542.8,588.0 561.2,585.6 612.4,595.2 630.0,591.2 630.0,610.4 590.0,618.4 567.6,626.4 556.4,628.0 553.2,624.8 489.2,619.2 484.4,618.4" fill="#3a8ce2"/><polygon points="515.0,617.0 553.0,622.0 568.0,608.0 600.0,600.0 561.0,591.0 530.0,597.0 512.0,610.0" fill="#63a6ee"/><line x1="518.0" y1="618.0" x2="556.0" y2="595.0" stroke="#a8d0f8" stroke-width="0.7"/><line x1="524.0" y1="618.0" x2="562.0" y2="595.0" stroke="#a8d0f8" stroke-width="0.7"/><line x1="530.0" y1="618.0" x2="568.0" y2="595.0" stroke="#a8d0f8" stroke-width="0.7"/><line x1="536.0" y1="618.0" x2="574.0" y2="595.0" stroke="#a8d0f8" stroke-width="0.7"/><line x1="542.0" y1="618.0" x2="580.0" y2="595.0" stroke="#a8d0f8" stroke-width="0.7"/><line x1="548.0" y1="618.0" x2="586.0" y2="595.0" stroke="#a8d0f8" stroke-width="0.7"/><line x1="554.0" y1="618.0" x2="592.0" y2="595.0" stroke="#a8d0f8" stroke-width="0.7"/><line x1="515.0" y1="610.0" x2="525.0" y2="594.0" stroke="#e8f4ff" stroke-width="1.1"/><line x1="518.2" y1="610.0" x2="528.2" y2="594.0" stroke="#e8f4ff" stroke-width="1.1"/><line x1="521.4" y1="610.0" x2="531.4" y2="594.0" stroke="#e8f4ff" stroke-width="1.1"/><line x1="524.6" y1="610.0" x2="534.6" y2="594.0" stroke="#e8f4ff" stroke-width="1.1"/><line x1="527.8" y1="610.0" x2="537.8" y2="594.0" stroke="#e8f4ff" stroke-width="1.1"/><line x1="531.0" y1="610.0" x2="541.0" y2="594.0" stroke="#e8f4ff" stroke-width="1.1"/><line x1="534.2" y1="610.0" x2="544.2" y2="594.0" stroke="#e8f4ff" stroke-width="1.1"/><line x1="537.4" y1="610.0" x2="547.4" y2="594.0" stroke="#e8f4ff" stroke-width="1.1"/><polygon points="555.0,624.0 560.0,614.0 570.0,606.0 585.0,602.0 612.0,596.0 630.0,592.0 630.0,610.0 590.0,618.0 567.6,626.4" fill="#2f80d8"/><line x1="588.0" y1="617.0" x2="594.0" y2="606.0" stroke="#7cb8f2" stroke-width="0.8"/><line x1="592.5" y1="617.0" x2="598.5" y2="606.0" stroke="#7cb8f2" stroke-width="0.8"/><line x1="597.0" y1="617.0" x2="603.0" y2="606.0" stroke="#7cb8f2" stroke-width="0.8"/><line x1="601.5" y1="617.0" x2="607.5" y2="606.0" stroke="#7cb8f2" stroke-width="0.8"/><line x1="606.0" y1="617.0" x2="612.0" y2="606.0" stroke="#7cb8f2" stroke-width="0.8"/><line x1="610.5" y1="617.0" x2="616.5" y2="606.0" stroke="#7cb8f2" stroke-width="0.8"/><rect x="564" y="611" width="2.2" height="11" fill="#1c5cb0"/><rect x="573" y="606" width="2.2" height="13" fill="#1c5cb0"/><rect x="583" y="603" width="2" height="13" fill="#1c5cb0"/><rect x="617" y="593" width="2" height="14" fill="#1c5cb0"/><rect x="624" y="592" width="2" height="14" fill="#1c5cb0"/><polygon points="484.4,573.4 487.6,563.0 497.2,556.6 517.2,554.2 519.0,556.0 542.0,551.0 542.8,547.0 561.2,544.6 612.4,554.2 630.0,550.2 630.0,569.4 590.0,577.4 567.6,585.4 556.4,587.0 553.2,583.8 489.2,578.2 484.4,577.4" fill="#3a8ce2"/><polygon points="515.0,576.0 553.0,581.0 568.0,567.0 600.0,559.0 561.0,550.0 530.0,556.0 512.0,569.0" fill="#63a6ee"/><line x1="518.0" y1="577.0" x2="556.0" y2="554.0" stroke="#a8d0f8" stroke-width="0.7"/><line x1="524.0" y1="577.0" x2="562.0" y2="554.0" stroke="#a8d0f8" stroke-width="0.7"/><line x1="530.0" y1="577.0" x2="568.0" y2="554.0" stroke="#a8d0f8" stroke-width="0.7"/><line x1="536.0" y1="577.0" x2="574.0" y2="554.0" stroke="#a8d0f8" stroke-width="0.7"/><line x1="542.0" y1="577.0" x2="580.0" y2="554.0" stroke="#a8d0f8" stroke-width="0.7"/><line x1="548.0" y1="577.0" x2="586.0" y2="554.0" stroke="#a8d0f8" stroke-width="0.7"/><line x1="554.0" y1="577.0" x2="592.0" y2="554.0" stroke="#a8d0f8" stroke-width="0.7"/><line x1="515.0" y1="569.0" x2="525.0" y2="553.0" stroke="#e8f4ff" stroke-width="1.1"/><line x1="518.2" y1="569.0" x2="528.2" y2="553.0" stroke="#e8f4ff" stroke-width="1.1"/><line x1="521.4" y1="569.0" x2="531.4" y2="553.0" stroke="#e8f4ff" stroke-width="1.1"/><line x1="524.6" y1="569.0" x2="534.6" y2="553.0" stroke="#e8f4ff" stroke-width="1.1"/><line x1="527.8" y1="569.0" x2="537.8" y2="553.0" stroke="#e8f4ff" stroke-width="1.1"/><line x1="531.0" y1="569.0" x2="541.0" y2="553.0" stroke="#e8f4ff" stroke-width="1.1"/><line x1="534.2" y1="569.0" x2="544.2" y2="553.0" stroke="#e8f4ff" stroke-width="1.1"/><line x1="537.4" y1="569.0" x2="547.4" y2="553.0" stroke="#e8f4ff" stroke-width="1.1"/><polygon points="555.0,583.0 560.0,573.0 570.0,565.0 585.0,561.0 612.0,555.0 630.0,551.0 630.0,569.0 590.0,577.0 567.6,585.4" fill="#2f80d8"/><line x1="588.0" y1="576.0" x2="594.0" y2="565.0" stroke="#7cb8f2" stroke-width="0.8"/><line x1="592.5" y1="576.0" x2="598.5" y2="565.0" stroke="#7cb8f2" stroke-width="0.8"/><line x1="597.0" y1="576.0" x2="603.0" y2="565.0" stroke="#7cb8f2" stroke-width="0.8"/><line x1="601.5" y1="576.0" x2="607.5" y2="565.0" stroke="#7cb8f2" stroke-width="0.8"/><line x1="606.0" y1="576.0" x2="612.0" y2="565.0" stroke="#7cb8f2" stroke-width="0.8"/><line x1="610.5" y1="576.0" x2="616.5" y2="565.0" stroke="#7cb8f2" stroke-width="0.8"/><rect x="564" y="570" width="2.2" height="11" fill="#1c5cb0"/><rect x="573" y="565" width="2.2" height="13" fill="#1c5cb0"/><rect x="583" y="562" width="2" height="13" fill="#1c5cb0"/><rect x="617" y="552" width="2" height="14" fill="#1c5cb0"/><rect x="624" y="551" width="2" height="14" fill="#1c5cb0"/><polygon points="484.4,532.4 487.6,522.0 497.2,515.6 517.2,513.2 519.0,515.0 542.0,510.0 542.8,506.0 561.2,503.6 612.4,513.2 630.0,509.2 630.0,528.4 590.0,536.4 567.6,544.4 556.4,546.0 553.2,542.8 489.2,537.2 484.4,536.4" fill="#3a8ce2"/><polygon points="515.0,535.0 553.0,540.0 568.0,526.0 600.0,518.0 561.0,509.0 530.0,515.0 512.0,528.0" fill="#63a6ee"/><line x1="518.0" y1="536.0" x2="556.0" y2="513.0" stroke="#a8d0f8" stroke-width="0.7"/><line x1="524.0" y1="536.0" x2="562.0" y2="513.0" stroke="#a8d0f8" stroke-width="0.7"/><line x1="530.0" y1="536.0" x2="568.0" y2="513.0" stroke="#a8d0f8" stroke-width="0.7"/><line x1="536.0" y1="536.0" x2="574.0" y2="513.0" stroke="#a8d0f8" stroke-width="0.7"/><line x1="542.0" y1="536.0" x2="580.0" y2="513.0" stroke="#a8d0f8" stroke-width="0.7"/><line x1="548.0" y1="536.0" x2="586.0" y2="513.0" stroke="#a8d0f8" stroke-width="0.7"/><line x1="554.0" y1="536.0" x2="592.0" y2="513.0" stroke="#a8d0f8" stroke-width="0.7"/><line x1="515.0" y1="528.0" x2="525.0" y2="512.0" stroke="#e8f4ff" stroke-width="1.1"/><line x1="518.2" y1="528.0" x2="528.2" y2="512.0" stroke="#e8f4ff" stroke-width="1.1"/><line x1="521.4" y1="528.0" x2="531.4" y2="512.0" stroke="#e8f4ff" stroke-width="1.1"/><line x1="524.6" y1="528.0" x2="534.6" y2="512.0" stroke="#e8f4ff" stroke-width="1.1"/><line x1="527.8" y1="528.0" x2="537.8" y2="512.0" stroke="#e8f4ff" stroke-width="1.1"/><line x1="531.0" y1="528.0" x2="541.0" y2="512.0" stroke="#e8f4ff" stroke-width="1.1"/><line x1="534.2" y1="528.0" x2="544.2" y2="512.0" stroke="#e8f4ff" stroke-width="1.1"/><line x1="537.4" y1="528.0" x2="547.4" y2="512.0" stroke="#e8f4ff" stroke-width="1.1"/><polygon points="555.0,542.0 560.0,532.0 570.0,524.0 585.0,520.0 612.0,514.0 630.0,510.0 630.0,528.0 590.0,536.0 567.6,544.4" fill="#2f80d8"/><line x1="588.0" y1="535.0" x2="594.0" y2="524.0" stroke="#7cb8f2" stroke-width="0.8"/><line x1="592.5" y1="535.0" x2="598.5" y2="524.0" stroke="#7cb8f2" stroke-width="0.8"/><line x1="597.0" y1="535.0" x2="603.0" y2="524.0" stroke="#7cb8f2" stroke-width="0.8"/><line x1="601.5" y1="535.0" x2="607.5" y2="524.0" stroke="#7cb8f2" stroke-width="0.8"/><line x1="606.0" y1="535.0" x2="612.0" y2="524.0" stroke="#7cb8f2" stroke-width="0.8"/><line x1="610.5" y1="535.0" x2="616.5" y2="524.0" stroke="#7cb8f2" stroke-width="0.8"/><rect x="564" y="529" width="2.2" height="11" fill="#1c5cb0"/><rect x="573" y="524" width="2.2" height="13" fill="#1c5cb0"/><rect x="583" y="521" width="2" height="13" fill="#1c5cb0"/><rect x="617" y="511" width="2" height="14" fill="#1c5cb0"/><rect x="624" y="510" width="2" height="14" fill="#1c5cb0"/></g><g id="stamppad"><ellipse cx="728" cy="563" rx="30.5" ry="29" fill="#121214"/><ellipse cx="730.5" cy="558" rx="23.5" ry="21.5" fill="#f02818"/><ellipse cx="729" cy="563" rx="30" ry="28" fill="none" stroke="#2a2a2c" stroke-width="1"/><ellipse cx="679.5" cy="561" rx="36.5" ry="29.5" transform="rotate(-18 679.5 561)" fill="#141416"/><ellipse cx="679" cy="558" rx="35" ry="26" transform="rotate(-18 679 558)" fill="#1d1d20"/></g><g id="labelsheet"><rect x="867" y="465.7" width="5.8" height="179.6" fill="#d4b070"/><rect x="763.5" y="467.6" width="102" height="177.7" fill="#fdfdfd"/><polygon points="767.5,469.0 793.0,469.0 795.5,471.5 795.5,486.2 793.0,489.2 767.5,489.2 765.0,486.2 765.0,471.5" fill="#fff" stroke="#e8452f" stroke-width="2.8"/><rect x="767.7" y="471.6" width="25.1" height="14.8" fill="none" stroke="#f4b8ae" stroke-width="0.5"/><line x1="767.5" y1="479.0" x2="793" y2="479.0" stroke="#ec7a6a" stroke-width="0.7"/><polygon points="800.8,469.0 827.0,469.0 829.5,471.5 829.5,486.2 827.0,489.2 800.8,489.2 798.3,486.2 798.3,471.5" fill="#fff" stroke="#e8452f" stroke-width="2.8"/><rect x="801.0" y="471.6" width="25.8" height="14.8" fill="none" stroke="#f4b8ae" stroke-width="0.5"/><line x1="800.8" y1="479.0" x2="827" y2="479.0" stroke="#ec7a6a" stroke-width="0.7"/><polygon points="835.0,469.0 861.8,469.0 864.3,471.5 864.3,486.2 861.8,489.2 835.0,489.2 832.5,486.2 832.5,471.5" fill="#fff" stroke="#e8452f" stroke-width="2.8"/><rect x="835.2" y="471.6" width="26.4" height="14.8" fill="none" stroke="#f4b8ae" stroke-width="0.5"/><line x1="835" y1="479.0" x2="861.8" y2="479.0" stroke="#ec7a6a" stroke-width="0.7"/><polygon points="767.5,491.2 793.0,491.2 795.5,493.7 795.5,508.4 793.0,511.4 767.5,511.4 765.0,508.4 765.0,493.7" fill="#fff" stroke="#e8452f" stroke-width="2.8"/><rect x="767.7" y="493.8" width="25.1" height="14.8" fill="none" stroke="#f4b8ae" stroke-width="0.5"/><line x1="767.5" y1="501.2" x2="793" y2="501.2" stroke="#ec7a6a" stroke-width="0.7"/><polygon points="800.8,491.2 827.0,491.2 829.5,493.7 829.5,508.4 827.0,511.4 800.8,511.4 798.3,508.4 798.3,493.7" fill="#fff" stroke="#e8452f" stroke-width="2.8"/><rect x="801.0" y="493.8" width="25.8" height="14.8" fill="none" stroke="#f4b8ae" stroke-width="0.5"/><line x1="800.8" y1="501.2" x2="827" y2="501.2" stroke="#ec7a6a" stroke-width="0.7"/><polygon points="835.0,491.2 861.8,491.2 864.3,493.7 864.3,508.4 861.8,511.4 835.0,511.4 832.5,508.4 832.5,493.7" fill="#fff" stroke="#e8452f" stroke-width="2.8"/><rect x="835.2" y="493.8" width="26.4" height="14.8" fill="none" stroke="#f4b8ae" stroke-width="0.5"/><line x1="835" y1="501.2" x2="861.8" y2="501.2" stroke="#ec7a6a" stroke-width="0.7"/><polygon points="767.5,513.4 793.0,513.4 795.5,515.9 795.5,530.6 793.0,533.6 767.5,533.6 765.0,530.6 765.0,515.9" fill="#fff" stroke="#e8452f" stroke-width="2.8"/><rect x="767.7" y="516.0" width="25.1" height="14.8" fill="none" stroke="#f4b8ae" stroke-width="0.5"/><line x1="767.5" y1="523.4" x2="793" y2="523.4" stroke="#ec7a6a" stroke-width="0.7"/><polygon points="800.8,513.4 827.0,513.4 829.5,515.9 829.5,530.6 827.0,533.6 800.8,533.6 798.3,530.6 798.3,515.9" fill="#fff" stroke="#e8452f" stroke-width="2.8"/><rect x="801.0" y="516.0" width="25.8" height="14.8" fill="none" stroke="#f4b8ae" stroke-width="0.5"/><line x1="800.8" y1="523.4" x2="827" y2="523.4" stroke="#ec7a6a" stroke-width="0.7"/><polygon points="835.0,513.4 861.8,513.4 864.3,515.9 864.3,530.6 861.8,533.6 835.0,533.6 832.5,530.6 832.5,515.9" fill="#fff" stroke="#e8452f" stroke-width="2.8"/><rect x="835.2" y="516.0" width="26.4" height="14.8" fill="none" stroke="#f4b8ae" stroke-width="0.5"/><line x1="835" y1="523.4" x2="861.8" y2="523.4" stroke="#ec7a6a" stroke-width="0.7"/><polygon points="767.5,535.6 793.0,535.6 795.5,538.1 795.5,552.8 793.0,555.8 767.5,555.8 765.0,552.8 765.0,538.1" fill="#fff" stroke="#e8452f" stroke-width="2.8"/><rect x="767.7" y="538.2" width="25.1" height="14.8" fill="none" stroke="#f4b8ae" stroke-width="0.5"/><line x1="767.5" y1="545.6" x2="793" y2="545.6" stroke="#ec7a6a" stroke-width="0.7"/><polygon points="800.8,535.6 827.0,535.6 829.5,538.1 829.5,552.8 827.0,555.8 800.8,555.8 798.3,552.8 798.3,538.1" fill="#fff" stroke="#e8452f" stroke-width="2.8"/><rect x="801.0" y="538.2" width="25.8" height="14.8" fill="none" stroke="#f4b8ae" stroke-width="0.5"/><line x1="800.8" y1="545.6" x2="827" y2="545.6" stroke="#ec7a6a" stroke-width="0.7"/><polygon points="835.0,535.6 861.8,535.6 864.3,538.1 864.3,552.8 861.8,555.8 835.0,555.8 832.5,552.8 832.5,538.1" fill="#fff" stroke="#e8452f" stroke-width="2.8"/><rect x="835.2" y="538.2" width="26.4" height="14.8" fill="none" stroke="#f4b8ae" stroke-width="0.5"/><line x1="835" y1="545.6" x2="861.8" y2="545.6" stroke="#ec7a6a" stroke-width="0.7"/><polygon points="767.5,557.8 793.0,557.8 795.5,560.3 795.5,575.0 793.0,578.0 767.5,578.0 765.0,575.0 765.0,560.3" fill="#fff" stroke="#e8452f" stroke-width="2.8"/><rect x="767.7" y="560.4" width="25.1" height="14.8" fill="none" stroke="#f4b8ae" stroke-width="0.5"/><line x1="767.5" y1="567.8" x2="793" y2="567.8" stroke="#ec7a6a" stroke-width="0.7"/><polygon points="800.8,557.8 827.0,557.8 829.5,560.3 829.5,575.0 827.0,578.0 800.8,578.0 798.3,575.0 798.3,560.3" fill="#fff" stroke="#e8452f" stroke-width="2.8"/><rect x="801.0" y="560.4" width="25.8" height="14.8" fill="none" stroke="#f4b8ae" stroke-width="0.5"/><line x1="800.8" y1="567.8" x2="827" y2="567.8" stroke="#ec7a6a" stroke-width="0.7"/><polygon points="835.0,557.8 861.8,557.8 864.3,560.3 864.3,575.0 861.8,578.0 835.0,578.0 832.5,575.0 832.5,560.3" fill="#fff" stroke="#e8452f" stroke-width="2.8"/><rect x="835.2" y="560.4" width="26.4" height="14.8" fill="none" stroke="#f4b8ae" stroke-width="0.5"/><line x1="835" y1="567.8" x2="861.8" y2="567.8" stroke="#ec7a6a" stroke-width="0.7"/><polygon points="767.5,580.0 793.0,580.0 795.5,582.5 795.5,597.2 793.0,600.2 767.5,600.2 765.0,597.2 765.0,582.5" fill="#fff" stroke="#e8452f" stroke-width="2.8"/><rect x="767.7" y="582.6" width="25.1" height="14.8" fill="none" stroke="#f4b8ae" stroke-width="0.5"/><line x1="767.5" y1="590.0" x2="793" y2="590.0" stroke="#ec7a6a" stroke-width="0.7"/><polygon points="800.8,580.0 827.0,580.0 829.5,582.5 829.5,597.2 827.0,600.2 800.8,600.2 798.3,597.2 798.3,582.5" fill="#fff" stroke="#e8452f" stroke-width="2.8"/><rect x="801.0" y="582.6" width="25.8" height="14.8" fill="none" stroke="#f4b8ae" stroke-width="0.5"/><line x1="800.8" y1="590.0" x2="827" y2="590.0" stroke="#ec7a6a" stroke-width="0.7"/><polygon points="835.0,580.0 861.8,580.0 864.3,582.5 864.3,597.2 861.8,600.2 835.0,600.2 832.5,597.2 832.5,582.5" fill="#fff" stroke="#e8452f" stroke-width="2.8"/><rect x="835.2" y="582.6" width="26.4" height="14.8" fill="none" stroke="#f4b8ae" stroke-width="0.5"/><line x1="835" y1="590.0" x2="861.8" y2="590.0" stroke="#ec7a6a" stroke-width="0.7"/><polygon points="767.5,602.2 793.0,602.2 795.5,604.7 795.5,619.4 793.0,622.4 767.5,622.4 765.0,619.4 765.0,604.7" fill="#fff" stroke="#e8452f" stroke-width="2.8"/><rect x="767.7" y="604.8" width="25.1" height="14.8" fill="none" stroke="#f4b8ae" stroke-width="0.5"/><line x1="767.5" y1="612.2" x2="793" y2="612.2" stroke="#ec7a6a" stroke-width="0.7"/><polygon points="800.8,602.2 827.0,602.2 829.5,604.7 829.5,619.4 827.0,622.4 800.8,622.4 798.3,619.4 798.3,604.7" fill="#fff" stroke="#e8452f" stroke-width="2.8"/><rect x="801.0" y="604.8" width="25.8" height="14.8" fill="none" stroke="#f4b8ae" stroke-width="0.5"/><line x1="800.8" y1="612.2" x2="827" y2="612.2" stroke="#ec7a6a" stroke-width="0.7"/><polygon points="835.0,602.2 861.8,602.2 864.3,604.7 864.3,619.4 861.8,622.4 835.0,622.4 832.5,619.4 832.5,604.7" fill="#fff" stroke="#e8452f" stroke-width="2.8"/><rect x="835.2" y="604.8" width="26.4" height="14.8" fill="none" stroke="#f4b8ae" stroke-width="0.5"/><line x1="835" y1="612.2" x2="861.8" y2="612.2" stroke="#ec7a6a" stroke-width="0.7"/><polygon points="767.5,624.4 793.0,624.4 795.5,626.9 795.5,641.6 793.0,644.6 767.5,644.6 765.0,641.6 765.0,626.9" fill="#fff" stroke="#e8452f" stroke-width="2.8"/><rect x="767.7" y="627.0" width="25.1" height="14.8" fill="none" stroke="#f4b8ae" stroke-width="0.5"/><line x1="767.5" y1="634.4" x2="793" y2="634.4" stroke="#ec7a6a" stroke-width="0.7"/><polygon points="800.8,624.4 827.0,624.4 829.5,626.9 829.5,641.6 827.0,644.6 800.8,644.6 798.3,641.6 798.3,626.9" fill="#fff" stroke="#e8452f" stroke-width="2.8"/><rect x="801.0" y="627.0" width="25.8" height="14.8" fill="none" stroke="#f4b8ae" stroke-width="0.5"/><line x1="800.8" y1="634.4" x2="827" y2="634.4" stroke="#ec7a6a" stroke-width="0.7"/><polygon points="835.0,624.4 861.8,624.4 864.3,626.9 864.3,641.6 861.8,644.6 835.0,644.6 832.5,641.6 832.5,626.9" fill="#fff" stroke="#e8452f" stroke-width="2.8"/><rect x="835.2" y="627.0" width="26.4" height="14.8" fill="none" stroke="#f4b8ae" stroke-width="0.5"/><line x1="835" y1="634.4" x2="861.8" y2="634.4" stroke="#ec7a6a" stroke-width="0.7"/></g><g id="sticky"><rect x="906.6" y="530" width="70" height="101" fill="#f8f3c2"/><rect x="906.6" y="485.7" width="70" height="16.5" fill="#b9bdc2"/><circle cx="940.4" cy="495.6" r="4.6" fill="#fff"/><rect x="906.6" y="502.2" width="70" height="28" fill="#fbfbfb"/><path transform="translate(908.00,508.50) scale(5.60)" d="M0.06 0.31 L0.06 0.87 M0.67 0.35 L0.67 0.74 M0.37 0.29 L0.92 0.29 M0.56 0.35 L0.56 0.69 M0.10 0.16 L0.64 0.16 M0.1 0.1 L0.9 0.1 M0.1 0.9 L0.9 0.9" fill="none" stroke="#111" stroke-width="0.16" stroke-linecap="square"/><path transform="translate(914.16,508.50) scale(5.60)" d="M0.11 0.19 L0.11 0.64 M0.38 0.10 L0.79 0.10 M0.53 0.27 L0.53 0.73 M0.09 0.85 L0.62 0.85 M0.03 0.35 L0.58 0.35 M0.1 0.1 L0.9 0.1 M0.1 0.9 L0.9 0.9" fill="none" stroke="#111" stroke-width="0.16" stroke-linecap="square"/><path transform="translate(920.32,508.50) scale(5.60)" d="M0.87 0.14 L0.87 0.44 M0.38 0.88 L0.77 0.88 M0.35 0.33 L0.92 0.33 M0.57 0.33 L0.57 0.65 M0.60 0.28 L0.60 0.64 M0.1 0.1 L0.9 0.1 M0.1 0.9 L0.9 0.9" fill="none" stroke="#111" stroke-width="0.16" stroke-linecap="square"/><text x="927" y="514" font-family="Liberation Sans" font-weight="bold" font-size="5.5" fill="#111">No.9075</text><text x="908" y="522" font-family="Liberation Sans" font-weight="bold" font-size="6.5" fill="#111" textLength="42" lengthAdjust="spacingAndGlyphs">MEMO PAPER</text><rect x="917.3" y="551.7" width="47.8" height="36.3" fill="#e9b417"/><text x="941.2" y="575.5" text-anchor="middle" font-family="Liberation Sans" font-weight="bold" font-size="19.5" fill="#fff">100</text><text x="943" y="584.5" text-anchor="middle" font-family="Liberation Sans" font-size="7" fill="#fff">(SHEETS)</text><rect x="917.3" y="588" width="47.8" height="20.7" fill="#141414"/><text x="922" y="596.5" font-family="Liberation Sans" font-size="4.5" fill="#d8b040">76x51mm</text><text x="922" y="603.5" font-family="Liberation Sans" font-size="4.5" fill="#d8b040">(yellow color)</text></g><g id="quadbox"><polygon points="37,692 42,687.3 231,687.3 235.5,692 249,811 23.6,811" fill="#0f0f11"/><polygon points="37,692 48,690 42,811 23.6,811" fill="#1f2023"/><polygon points="226,690 235.5,692 249,811 232,811" fill="#1f2023"/><rect x="85" y="688" width="2.2" height="123" fill="#3a3b3f"/><rect x="134" y="688" width="2.2" height="123" fill="#3a3b3f"/><rect x="183" y="688" width="2.2" height="123" fill="#3a3b3f"/><clipPath id="qc50"><rect x="50.5" y="708" width="34.3" height="38"/></clipPath><g clip-path="url(#qc50)"><line x1="-15.9" y1="747" x2="34.1" y2="707" stroke="#f2f2f2" stroke-width="1.9" stroke-linecap="round" stroke-dasharray="11 3.5" stroke-dashoffset="2"/><line x1="-7.6" y1="747" x2="42.4" y2="707" stroke="#f2f2f2" stroke-width="1.9" stroke-linecap="round" stroke-dasharray="11 3.5" stroke-dashoffset="7"/><line x1="0.7" y1="747" x2="50.7" y2="707" stroke="#f2f2f2" stroke-width="1.9" stroke-linecap="round" stroke-dasharray="11 3.5" stroke-dashoffset="12"/><line x1="9.0" y1="747" x2="59.0" y2="707" stroke="#f2f2f2" stroke-width="1.9" stroke-linecap="round" stroke-dasharray="11 3.5" stroke-dashoffset="3"/><line x1="17.3" y1="747" x2="67.3" y2="707" stroke="#f2f2f2" stroke-width="1.9" stroke-linecap="round" stroke-dasharray="11 3.5" stroke-dashoffset="8"/><line x1="25.6" y1="747" x2="75.6" y2="707" stroke="#f2f2f2" stroke-width="1.9" stroke-linecap="round" stroke-dasharray="11 3.5" stroke-dashoffset="13"/><line x1="33.9" y1="747" x2="83.9" y2="707" stroke="#f2f2f2" stroke-width="1.9" stroke-linecap="round" stroke-dasharray="11 3.5" stroke-dashoffset="4"/><line x1="42.2" y1="747" x2="92.2" y2="707" stroke="#f2f2f2" stroke-width="1.9" stroke-linecap="round" stroke-dasharray="11 3.5" stroke-dashoffset="9"/><line x1="50.5" y1="747" x2="100.5" y2="707" stroke="#f2f2f2" stroke-width="1.9" stroke-linecap="round" stroke-dasharray="11 3.5" stroke-dashoffset="0"/><line x1="58.8" y1="747" x2="108.8" y2="707" stroke="#f2f2f2" stroke-width="1.9" stroke-linecap="round" stroke-dasharray="11 3.5" stroke-dashoffset="5"/><line x1="67.1" y1="747" x2="117.1" y2="707" stroke="#f2f2f2" stroke-width="1.9" stroke-linecap="round" stroke-dasharray="11 3.5" stroke-dashoffset="10"/><line x1="75.4" y1="747" x2="125.4" y2="707" stroke="#f2f2f2" stroke-width="1.9" stroke-linecap="round" stroke-dasharray="11 3.5" stroke-dashoffset="1"/><line x1="83.7" y1="747" x2="133.7" y2="707" stroke="#f2f2f2" stroke-width="1.9" stroke-linecap="round" stroke-dasharray="11 3.5" stroke-dashoffset="6"/><line x1="92.0" y1="747" x2="142.0" y2="707" stroke="#f2f2f2" stroke-width="1.9" stroke-linecap="round" stroke-dasharray="11 3.5" stroke-dashoffset="11"/><line x1="100.3" y1="747" x2="150.3" y2="707" stroke="#f2f2f2" stroke-width="1.9" stroke-linecap="round" stroke-dasharray="11 3.5" stroke-dashoffset="2"/><line x1="108.6" y1="747" x2="158.6" y2="707" stroke="#f2f2f2" stroke-width="1.9" stroke-linecap="round" stroke-dasharray="11 3.5" stroke-dashoffset="7"/></g><clipPath id="qc95"><rect x="95.8" y="708" width="36.8" height="38"/></clipPath><g clip-path="url(#qc95)"><line x1="29.4" y1="747" x2="79.4" y2="707" stroke="#f2f2f2" stroke-width="1.9" stroke-linecap="round" stroke-dasharray="11 3.5" stroke-dashoffset="2"/><line x1="37.7" y1="747" x2="87.7" y2="707" stroke="#f2f2f2" stroke-width="1.9" stroke-linecap="round" stroke-dasharray="11 3.5" stroke-dashoffset="7"/><line x1="46.0" y1="747" x2="96.0" y2="707" stroke="#f2f2f2" stroke-width="1.9" stroke-linecap="round" stroke-dasharray="11 3.5" stroke-dashoffset="12"/><line x1="54.3" y1="747" x2="104.3" y2="707" stroke="#f2f2f2" stroke-width="1.9" stroke-linecap="round" stroke-dasharray="11 3.5" stroke-dashoffset="3"/><line x1="62.6" y1="747" x2="112.6" y2="707" stroke="#f2f2f2" stroke-width="1.9" stroke-linecap="round" stroke-dasharray="11 3.5" stroke-dashoffset="8"/><line x1="70.9" y1="747" x2="120.9" y2="707" stroke="#f2f2f2" stroke-width="1.9" stroke-linecap="round" stroke-dasharray="11 3.5" stroke-dashoffset="13"/><line x1="79.2" y1="747" x2="129.2" y2="707" stroke="#f2f2f2" stroke-width="1.9" stroke-linecap="round" stroke-dasharray="11 3.5" stroke-dashoffset="4"/><line x1="87.5" y1="747" x2="137.5" y2="707" stroke="#f2f2f2" stroke-width="1.9" stroke-linecap="round" stroke-dasharray="11 3.5" stroke-dashoffset="9"/><line x1="95.8" y1="747" x2="145.8" y2="707" stroke="#f2f2f2" stroke-width="1.9" stroke-linecap="round" stroke-dasharray="11 3.5" stroke-dashoffset="0"/><line x1="104.1" y1="747" x2="154.1" y2="707" stroke="#f2f2f2" stroke-width="1.9" stroke-linecap="round" stroke-dasharray="11 3.5" stroke-dashoffset="5"/><line x1="112.4" y1="747" x2="162.4" y2="707" stroke="#f2f2f2" stroke-width="1.9" stroke-linecap="round" stroke-dasharray="11 3.5" stroke-dashoffset="10"/><line x1="120.7" y1="747" x2="170.7" y2="707" stroke="#f2f2f2" stroke-width="1.9" stroke-linecap="round" stroke-dasharray="11 3.5" stroke-dashoffset="1"/><line x1="129.0" y1="747" x2="179.0" y2="707" stroke="#f2f2f2" stroke-width="1.9" stroke-linecap="round" stroke-dasharray="11 3.5" stroke-dashoffset="6"/><line x1="137.3" y1="747" x2="187.3" y2="707" stroke="#f2f2f2" stroke-width="1.9" stroke-linecap="round" stroke-dasharray="11 3.5" stroke-dashoffset="11"/><line x1="145.6" y1="747" x2="195.6" y2="707" stroke="#f2f2f2" stroke-width="1.9" stroke-linecap="round" stroke-dasharray="11 3.5" stroke-dashoffset="2"/><line x1="153.9" y1="747" x2="203.9" y2="707" stroke="#f2f2f2" stroke-width="1.9" stroke-linecap="round" stroke-dasharray="11 3.5" stroke-dashoffset="7"/></g><clipPath id="qc140"><rect x="140" y="708" width="38" height="38"/></clipPath><g clip-path="url(#qc140)"><line x1="73.6" y1="747" x2="123.6" y2="707" stroke="#f2f2f2" stroke-width="1.9" stroke-linecap="round" stroke-dasharray="11 3.5" stroke-dashoffset="2"/><line x1="81.9" y1="747" x2="131.9" y2="707" stroke="#f2f2f2" stroke-width="1.9" stroke-linecap="round" stroke-dasharray="11 3.5" stroke-dashoffset="7"/><line x1="90.2" y1="747" x2="140.2" y2="707" stroke="#f2f2f2" stroke-width="1.9" stroke-linecap="round" stroke-dasharray="11 3.5" stroke-dashoffset="12"/><line x1="98.5" y1="747" x2="148.5" y2="707" stroke="#f2f2f2" stroke-width="1.9" stroke-linecap="round" stroke-dasharray="11 3.5" stroke-dashoffset="3"/><line x1="106.8" y1="747" x2="156.8" y2="707" stroke="#f2f2f2" stroke-width="1.9" stroke-linecap="round" stroke-dasharray="11 3.5" stroke-dashoffset="8"/><line x1="115.1" y1="747" x2="165.1" y2="707" stroke="#f2f2f2" stroke-width="1.9" stroke-linecap="round" stroke-dasharray="11 3.5" stroke-dashoffset="13"/><line x1="123.4" y1="747" x2="173.4" y2="707" stroke="#f2f2f2" stroke-width="1.9" stroke-linecap="round" stroke-dasharray="11 3.5" stroke-dashoffset="4"/><line x1="131.7" y1="747" x2="181.7" y2="707" stroke="#f2f2f2" stroke-width="1.9" stroke-linecap="round" stroke-dasharray="11 3.5" stroke-dashoffset="9"/><line x1="140.0" y1="747" x2="190.0" y2="707" stroke="#f2f2f2" stroke-width="1.9" stroke-linecap="round" stroke-dasharray="11 3.5" stroke-dashoffset="0"/><line x1="148.3" y1="747" x2="198.3" y2="707" stroke="#f2f2f2" stroke-width="1.9" stroke-linecap="round" stroke-dasharray="11 3.5" stroke-dashoffset="5"/><line x1="156.6" y1="747" x2="206.6" y2="707" stroke="#f2f2f2" stroke-width="1.9" stroke-linecap="round" stroke-dasharray="11 3.5" stroke-dashoffset="10"/><line x1="164.9" y1="747" x2="214.9" y2="707" stroke="#f2f2f2" stroke-width="1.9" stroke-linecap="round" stroke-dasharray="11 3.5" stroke-dashoffset="1"/><line x1="173.2" y1="747" x2="223.2" y2="707" stroke="#f2f2f2" stroke-width="1.9" stroke-linecap="round" stroke-dasharray="11 3.5" stroke-dashoffset="6"/><line x1="181.5" y1="747" x2="231.5" y2="707" stroke="#f2f2f2" stroke-width="1.9" stroke-linecap="round" stroke-dasharray="11 3.5" stroke-dashoffset="11"/><line x1="189.8" y1="747" x2="239.8" y2="707" stroke="#f2f2f2" stroke-width="1.9" stroke-linecap="round" stroke-dasharray="11 3.5" stroke-dashoffset="2"/><line x1="198.1" y1="747" x2="248.1" y2="707" stroke="#f2f2f2" stroke-width="1.9" stroke-linecap="round" stroke-dasharray="11 3.5" stroke-dashoffset="7"/></g><clipPath id="qc186"><rect x="186.5" y="708" width="36.5" height="38"/></clipPath><g clip-path="url(#qc186)"><line x1="120.1" y1="747" x2="170.1" y2="707" stroke="#f2f2f2" stroke-width="1.9" stroke-linecap="round" stroke-dasharray="11 3.5" stroke-dashoffset="2"/><line x1="128.4" y1="747" x2="178.4" y2="707" stroke="#f2f2f2" stroke-width="1.9" stroke-linecap="round" stroke-dasharray="11 3.5" stroke-dashoffset="7"/><line x1="136.7" y1="747" x2="186.7" y2="707" stroke="#f2f2f2" stroke-width="1.9" stroke-linecap="round" stroke-dasharray="11 3.5" stroke-dashoffset="12"/><line x1="145.0" y1="747" x2="195.0" y2="707" stroke="#f2f2f2" stroke-width="1.9" stroke-linecap="round" stroke-dasharray="11 3.5" stroke-dashoffset="3"/><line x1="153.3" y1="747" x2="203.3" y2="707" stroke="#f2f2f2" stroke-width="1.9" stroke-linecap="round" stroke-dasharray="11 3.5" stroke-dashoffset="8"/><line x1="161.6" y1="747" x2="211.6" y2="707" stroke="#f2f2f2" stroke-width="1.9" stroke-linecap="round" stroke-dasharray="11 3.5" stroke-dashoffset="13"/><line x1="169.9" y1="747" x2="219.9" y2="707" stroke="#f2f2f2" stroke-width="1.9" stroke-linecap="round" stroke-dasharray="11 3.5" stroke-dashoffset="4"/><line x1="178.2" y1="747" x2="228.2" y2="707" stroke="#f2f2f2" stroke-width="1.9" stroke-linecap="round" stroke-dasharray="11 3.5" stroke-dashoffset="9"/><line x1="186.5" y1="747" x2="236.5" y2="707" stroke="#f2f2f2" stroke-width="1.9" stroke-linecap="round" stroke-dasharray="11 3.5" stroke-dashoffset="0"/><line x1="194.8" y1="747" x2="244.8" y2="707" stroke="#f2f2f2" stroke-width="1.9" stroke-linecap="round" stroke-dasharray="11 3.5" stroke-dashoffset="5"/><line x1="203.1" y1="747" x2="253.1" y2="707" stroke="#f2f2f2" stroke-width="1.9" stroke-linecap="round" stroke-dasharray="11 3.5" stroke-dashoffset="10"/><line x1="211.4" y1="747" x2="261.4" y2="707" stroke="#f2f2f2" stroke-width="1.9" stroke-linecap="round" stroke-dasharray="11 3.5" stroke-dashoffset="1"/><line x1="219.7" y1="747" x2="269.7" y2="707" stroke="#f2f2f2" stroke-width="1.9" stroke-linecap="round" stroke-dasharray="11 3.5" stroke-dashoffset="6"/><line x1="228.0" y1="747" x2="278.0" y2="707" stroke="#f2f2f2" stroke-width="1.9" stroke-linecap="round" stroke-dasharray="11 3.5" stroke-dashoffset="11"/><line x1="236.3" y1="747" x2="286.3" y2="707" stroke="#f2f2f2" stroke-width="1.9" stroke-linecap="round" stroke-dasharray="11 3.5" stroke-dashoffset="2"/><line x1="244.6" y1="747" x2="294.6" y2="707" stroke="#f2f2f2" stroke-width="1.9" stroke-linecap="round" stroke-dasharray="11 3.5" stroke-dashoffset="7"/></g><rect x="23.6" y="811" width="225.4" height="87" fill="#121214"/><rect x="23.6" y="811" width="225.4" height="2" fill="#2a2b2e"/><rect x="31" y="825.8" width="44" height="37.9" fill="#f4f4f6"/><line x1="33" y1="832.5" x2="73" y2="832.5" stroke="#aaa" stroke-width="0.8"/><clipPath id="qd31"><rect x="31" y="868.6" width="44" height="17.2"/></clipPath><g clip-path="url(#qd31)"><line x1="16.6" y1="887" x2="34.6" y2="868" stroke="#77787c" stroke-width="1.3" stroke-dasharray="7 2" stroke-dashoffset="6"/><line x1="20.2" y1="887" x2="38.2" y2="868" stroke="#77787c" stroke-width="1.3" stroke-dasharray="7 2" stroke-dashoffset="0"/><line x1="23.8" y1="887" x2="41.8" y2="868" stroke="#77787c" stroke-width="1.3" stroke-dasharray="7 2" stroke-dashoffset="3"/><line x1="27.4" y1="887" x2="45.4" y2="868" stroke="#77787c" stroke-width="1.3" stroke-dasharray="7 2" stroke-dashoffset="6"/><line x1="31.0" y1="887" x2="49.0" y2="868" stroke="#77787c" stroke-width="1.3" stroke-dasharray="7 2" stroke-dashoffset="0"/><line x1="34.6" y1="887" x2="52.6" y2="868" stroke="#77787c" stroke-width="1.3" stroke-dasharray="7 2" stroke-dashoffset="3"/><line x1="38.2" y1="887" x2="56.2" y2="868" stroke="#77787c" stroke-width="1.3" stroke-dasharray="7 2" stroke-dashoffset="6"/><line x1="41.8" y1="887" x2="59.8" y2="868" stroke="#77787c" stroke-width="1.3" stroke-dasharray="7 2" stroke-dashoffset="0"/><line x1="45.4" y1="887" x2="63.4" y2="868" stroke="#77787c" stroke-width="1.3" stroke-dasharray="7 2" stroke-dashoffset="3"/><line x1="49.0" y1="887" x2="67.0" y2="868" stroke="#77787c" stroke-width="1.3" stroke-dasharray="7 2" stroke-dashoffset="6"/><line x1="52.6" y1="887" x2="70.6" y2="868" stroke="#77787c" stroke-width="1.3" stroke-dasharray="7 2" stroke-dashoffset="0"/><line x1="56.2" y1="887" x2="74.2" y2="868" stroke="#77787c" stroke-width="1.3" stroke-dasharray="7 2" stroke-dashoffset="3"/><line x1="59.8" y1="887" x2="77.8" y2="868" stroke="#77787c" stroke-width="1.3" stroke-dasharray="7 2" stroke-dashoffset="6"/><line x1="63.4" y1="887" x2="81.4" y2="868" stroke="#77787c" stroke-width="1.3" stroke-dasharray="7 2" stroke-dashoffset="0"/><line x1="67.0" y1="887" x2="85.0" y2="868" stroke="#77787c" stroke-width="1.3" stroke-dasharray="7 2" stroke-dashoffset="3"/><line x1="70.6" y1="887" x2="88.6" y2="868" stroke="#77787c" stroke-width="1.3" stroke-dasharray="7 2" stroke-dashoffset="6"/><line x1="74.2" y1="887" x2="92.2" y2="868" stroke="#77787c" stroke-width="1.3" stroke-dasharray="7 2" stroke-dashoffset="0"/><line x1="77.8" y1="887" x2="95.8" y2="868" stroke="#77787c" stroke-width="1.3" stroke-dasharray="7 2" stroke-dashoffset="3"/></g><rect x="87.3" y="825.8" width="44.10000000000001" height="37.9" fill="#f4f4f6"/><line x1="89.3" y1="832.5" x2="129.4" y2="832.5" stroke="#aaa" stroke-width="0.8"/><clipPath id="qd87"><rect x="87.3" y="868.6" width="44.10000000000001" height="17.2"/></clipPath><g clip-path="url(#qd87)"><line x1="72.9" y1="887" x2="90.9" y2="868" stroke="#77787c" stroke-width="1.3" stroke-dasharray="7 2" stroke-dashoffset="6"/><line x1="76.5" y1="887" x2="94.5" y2="868" stroke="#77787c" stroke-width="1.3" stroke-dasharray="7 2" stroke-dashoffset="0"/><line x1="80.1" y1="887" x2="98.1" y2="868" stroke="#77787c" stroke-width="1.3" stroke-dasharray="7 2" stroke-dashoffset="3"/><line x1="83.7" y1="887" x2="101.7" y2="868" stroke="#77787c" stroke-width="1.3" stroke-dasharray="7 2" stroke-dashoffset="6"/><line x1="87.3" y1="887" x2="105.3" y2="868" stroke="#77787c" stroke-width="1.3" stroke-dasharray="7 2" stroke-dashoffset="0"/><line x1="90.9" y1="887" x2="108.9" y2="868" stroke="#77787c" stroke-width="1.3" stroke-dasharray="7 2" stroke-dashoffset="3"/><line x1="94.5" y1="887" x2="112.5" y2="868" stroke="#77787c" stroke-width="1.3" stroke-dasharray="7 2" stroke-dashoffset="6"/><line x1="98.1" y1="887" x2="116.1" y2="868" stroke="#77787c" stroke-width="1.3" stroke-dasharray="7 2" stroke-dashoffset="0"/><line x1="101.7" y1="887" x2="119.7" y2="868" stroke="#77787c" stroke-width="1.3" stroke-dasharray="7 2" stroke-dashoffset="3"/><line x1="105.3" y1="887" x2="123.3" y2="868" stroke="#77787c" stroke-width="1.3" stroke-dasharray="7 2" stroke-dashoffset="6"/><line x1="108.9" y1="887" x2="126.9" y2="868" stroke="#77787c" stroke-width="1.3" stroke-dasharray="7 2" stroke-dashoffset="0"/><line x1="112.5" y1="887" x2="130.5" y2="868" stroke="#77787c" stroke-width="1.3" stroke-dasharray="7 2" stroke-dashoffset="3"/><line x1="116.1" y1="887" x2="134.1" y2="868" stroke="#77787c" stroke-width="1.3" stroke-dasharray="7 2" stroke-dashoffset="6"/><line x1="119.7" y1="887" x2="137.7" y2="868" stroke="#77787c" stroke-width="1.3" stroke-dasharray="7 2" stroke-dashoffset="0"/><line x1="123.3" y1="887" x2="141.3" y2="868" stroke="#77787c" stroke-width="1.3" stroke-dasharray="7 2" stroke-dashoffset="3"/><line x1="126.9" y1="887" x2="144.9" y2="868" stroke="#77787c" stroke-width="1.3" stroke-dasharray="7 2" stroke-dashoffset="6"/><line x1="130.5" y1="887" x2="148.5" y2="868" stroke="#77787c" stroke-width="1.3" stroke-dasharray="7 2" stroke-dashoffset="0"/><line x1="134.1" y1="887" x2="152.1" y2="868" stroke="#77787c" stroke-width="1.3" stroke-dasharray="7 2" stroke-dashoffset="3"/></g><rect x="142.4" y="825.8" width="44.099999999999994" height="37.9" fill="#f4f4f6"/><line x1="144.4" y1="832.5" x2="184.5" y2="832.5" stroke="#aaa" stroke-width="0.8"/><clipPath id="qd142"><rect x="142.4" y="868.6" width="44.099999999999994" height="17.2"/></clipPath><g clip-path="url(#qd142)"><line x1="128.0" y1="887" x2="146.0" y2="868" stroke="#77787c" stroke-width="1.3" stroke-dasharray="7 2" stroke-dashoffset="6"/><line x1="131.6" y1="887" x2="149.6" y2="868" stroke="#77787c" stroke-width="1.3" stroke-dasharray="7 2" stroke-dashoffset="0"/><line x1="135.2" y1="887" x2="153.2" y2="868" stroke="#77787c" stroke-width="1.3" stroke-dasharray="7 2" stroke-dashoffset="3"/><line x1="138.8" y1="887" x2="156.8" y2="868" stroke="#77787c" stroke-width="1.3" stroke-dasharray="7 2" stroke-dashoffset="6"/><line x1="142.4" y1="887" x2="160.4" y2="868" stroke="#77787c" stroke-width="1.3" stroke-dasharray="7 2" stroke-dashoffset="0"/><line x1="146.0" y1="887" x2="164.0" y2="868" stroke="#77787c" stroke-width="1.3" stroke-dasharray="7 2" stroke-dashoffset="3"/><line x1="149.6" y1="887" x2="167.6" y2="868" stroke="#77787c" stroke-width="1.3" stroke-dasharray="7 2" stroke-dashoffset="6"/><line x1="153.2" y1="887" x2="171.2" y2="868" stroke="#77787c" stroke-width="1.3" stroke-dasharray="7 2" stroke-dashoffset="0"/><line x1="156.8" y1="887" x2="174.8" y2="868" stroke="#77787c" stroke-width="1.3" stroke-dasharray="7 2" stroke-dashoffset="3"/><line x1="160.4" y1="887" x2="178.4" y2="868" stroke="#77787c" stroke-width="1.3" stroke-dasharray="7 2" stroke-dashoffset="6"/><line x1="164.0" y1="887" x2="182.0" y2="868" stroke="#77787c" stroke-width="1.3" stroke-dasharray="7 2" stroke-dashoffset="0"/><line x1="167.6" y1="887" x2="185.6" y2="868" stroke="#77787c" stroke-width="1.3" stroke-dasharray="7 2" stroke-dashoffset="3"/><line x1="171.2" y1="887" x2="189.2" y2="868" stroke="#77787c" stroke-width="1.3" stroke-dasharray="7 2" stroke-dashoffset="6"/><line x1="174.8" y1="887" x2="192.8" y2="868" stroke="#77787c" stroke-width="1.3" stroke-dasharray="7 2" stroke-dashoffset="0"/><line x1="178.4" y1="887" x2="196.4" y2="868" stroke="#77787c" stroke-width="1.3" stroke-dasharray="7 2" stroke-dashoffset="3"/><line x1="182.0" y1="887" x2="200.0" y2="868" stroke="#77787c" stroke-width="1.3" stroke-dasharray="7 2" stroke-dashoffset="6"/><line x1="185.6" y1="887" x2="203.6" y2="868" stroke="#77787c" stroke-width="1.3" stroke-dasharray="7 2" stroke-dashoffset="0"/><line x1="189.2" y1="887" x2="207.2" y2="868" stroke="#77787c" stroke-width="1.3" stroke-dasharray="7 2" stroke-dashoffset="3"/></g><rect x="198.2" y="825.8" width="43.400000000000006" height="37.9" fill="#f4f4f6"/><line x1="200.2" y1="832.5" x2="239.6" y2="832.5" stroke="#aaa" stroke-width="0.8"/><clipPath id="qd198"><rect x="198.2" y="868.6" width="43.400000000000006" height="17.2"/></clipPath><g clip-path="url(#qd198)"><line x1="183.8" y1="887" x2="201.8" y2="868" stroke="#77787c" stroke-width="1.3" stroke-dasharray="7 2" stroke-dashoffset="6"/><line x1="187.4" y1="887" x2="205.4" y2="868" stroke="#77787c" stroke-width="1.3" stroke-dasharray="7 2" stroke-dashoffset="0"/><line x1="191.0" y1="887" x2="209.0" y2="868" stroke="#77787c" stroke-width="1.3" stroke-dasharray="7 2" stroke-dashoffset="3"/><line x1="194.6" y1="887" x2="212.6" y2="868" stroke="#77787c" stroke-width="1.3" stroke-dasharray="7 2" stroke-dashoffset="6"/><line x1="198.2" y1="887" x2="216.2" y2="868" stroke="#77787c" stroke-width="1.3" stroke-dasharray="7 2" stroke-dashoffset="0"/><line x1="201.8" y1="887" x2="219.8" y2="868" stroke="#77787c" stroke-width="1.3" stroke-dasharray="7 2" stroke-dashoffset="3"/><line x1="205.4" y1="887" x2="223.4" y2="868" stroke="#77787c" stroke-width="1.3" stroke-dasharray="7 2" stroke-dashoffset="6"/><line x1="209.0" y1="887" x2="227.0" y2="868" stroke="#77787c" stroke-width="1.3" stroke-dasharray="7 2" stroke-dashoffset="0"/><line x1="212.6" y1="887" x2="230.6" y2="868" stroke="#77787c" stroke-width="1.3" stroke-dasharray="7 2" stroke-dashoffset="3"/><line x1="216.2" y1="887" x2="234.2" y2="868" stroke="#77787c" stroke-width="1.3" stroke-dasharray="7 2" stroke-dashoffset="6"/><line x1="219.8" y1="887" x2="237.8" y2="868" stroke="#77787c" stroke-width="1.3" stroke-dasharray="7 2" stroke-dashoffset="0"/><line x1="223.4" y1="887" x2="241.4" y2="868" stroke="#77787c" stroke-width="1.3" stroke-dasharray="7 2" stroke-dashoffset="3"/><line x1="227.0" y1="887" x2="245.0" y2="868" stroke="#77787c" stroke-width="1.3" stroke-dasharray="7 2" stroke-dashoffset="6"/><line x1="230.6" y1="887" x2="248.6" y2="868" stroke="#77787c" stroke-width="1.3" stroke-dasharray="7 2" stroke-dashoffset="0"/><line x1="234.2" y1="887" x2="252.2" y2="868" stroke="#77787c" stroke-width="1.3" stroke-dasharray="7 2" stroke-dashoffset="3"/><line x1="237.8" y1="887" x2="255.8" y2="868" stroke="#77787c" stroke-width="1.3" stroke-dasharray="7 2" stroke-dashoffset="6"/><line x1="241.4" y1="887" x2="259.4" y2="868" stroke="#77787c" stroke-width="1.3" stroke-dasharray="7 2" stroke-dashoffset="0"/><line x1="245.0" y1="887" x2="263.0" y2="868" stroke="#77787c" stroke-width="1.3" stroke-dasharray="7 2" stroke-dashoffset="3"/></g><rect x="80.5" y="818" width="2.5" height="75" fill="#0e0e10"/><rect x="137" y="818" width="2.5" height="75" fill="#0e0e10"/><rect x="192" y="818" width="2.5" height="75" fill="#0e0e10"/></g><g id="a4folder"><rect x="298.3" y="694.9" width="313.5" height="201.3" rx="1" fill="#3e87e0"/><rect x="447.3" y="694.9" width="1.2" height="201.3" fill="#5c9ae8"/><rect x="459.6" y="694.9" width="1.2" height="201.3" fill="#5c9ae8"/><rect x="323" y="699.9" width="95.7" height="136.3" fill="#fafbfc"/><rect x="341" y="696.5" width="64.5" height="8" rx="1.5" fill="#b4b6ba"/><path d="M341 700 L341 713 L346 713 L346 704 L400 704 L400 713 L405.5 713 L405.5 700 Z" fill="#2a2a2c"/><rect x="350" y="705" width="46" height="3" fill="#d8d8da"/><text x="348.5" y="763.2" font-family="Liberation Sans" font-size="19.5" fill="#3a3a3a">A5</text><path transform="translate(373.00,748.50) scale(16.00)" d="M0.27 0.04 L0.08 0.36 L0.32 0.34 L0.08 0.66 L0.4 0.58 M0.06 0.9 L0.4 0.8 M0.5 0.16 L0.92 0.08 M0.52 0.14 L0.52 0.86 L0.64 0.8 M0.52 0.46 L0.96 0.46 M0.72 0.12 Q0.72 0.72 0.97 0.94 M0.84 0.74 L0.9 0.84" fill="none" stroke="#3a3a3a" stroke-width="0.09" stroke-linecap="square"/><rect x="343" y="768" width="54" height="0.8" fill="#aaa"/><text x="342" y="782" font-family="Liberation Sans" font-size="10.5" fill="#555" textLength="56" lengthAdjust="spacingAndGlyphs">148*210mm</text><rect x="470.9" y="698.2" width="137.6" height="191.4" fill="#fafbfc"/><rect x="464" y="763" width="9.5" height="63.5" rx="2" fill="#8e8076"/><circle cx="468.5" cy="768.5" r="2.6" fill="none" stroke="#4a4040" stroke-width="1"/><rect x="469" y="785.0" width="2.6" height="3" fill="#1c1c22"/><rect x="469" y="791.5" width="2.6" height="3" fill="#1c1c22"/><rect x="469" y="798.0" width="2.6" height="3" fill="#1c1c22"/><rect x="469" y="804.5" width="2.6" height="3" fill="#1c1c22"/><rect x="469" y="811.0" width="2.6" height="3" fill="#1c1c22"/><rect x="474.5" y="730" width="7.2" height="130" rx="1.8" fill="#877468"/><rect x="474.5" y="818" width="7.2" height="42" rx="1.5" fill="#3e3430"/><circle cx="478" cy="765" r="1.7" fill="#e8e8e8"/><circle cx="478" cy="822" r="1.7" fill="#e8e8e8"/><text x="525" y="803.8" font-family="Liberation Sans" font-size="21.5" fill="#333">A4</text><path transform="translate(552.50,787.00) scale(18.00)" d="M0.27 0.04 L0.08 0.36 L0.32 0.34 L0.08 0.66 L0.4 0.58 M0.06 0.9 L0.4 0.8 M0.5 0.16 L0.92 0.08 M0.52 0.14 L0.52 0.86 L0.64 0.8 M0.52 0.46 L0.96 0.46 M0.72 0.12 Q0.72 0.72 0.97 0.94 M0.84 0.74 L0.9 0.84" fill="none" stroke="#333" stroke-width="0.085" stroke-linecap="square"/><rect x="521" y="809.5" width="55" height="0.8" fill="#aaa"/><text x="521" y="823" font-family="Liberation Sans" font-size="10.5" fill="#555" textLength="55.5" lengthAdjust="spacingAndGlyphs">210*297mm</text></g><g id="infobook"><polygon points="667.2,691.5 753,693.8 753,873.5 751,875 667.2,892" fill="#121214"/><rect x="633.8" y="691.5" width="32.2" height="95.5" fill="#a9aaad"/><rect x="633.8" y="691.5" width="9" height="95.5" fill="#b8b9bc"/><rect x="657" y="691.5" width="9" height="95.5" fill="#9a9b9e"/><rect x="633.8" y="787" width="32.2" height="109.2" fill="#161618"/><rect x="633.8" y="786" width="32.2" height="1.5" fill="#eee"/><rect x="666" y="691.5" width="1.2" height="205" fill="#ddd"/><text x="640" y="800" font-family="Liberation Sans" font-size="6" fill="#ddd">60</text><rect x="652.8" y="866" width="9.7" height="23.5" fill="#9a9a9a"/><rect x="654" y="868" width="7.3" height="3" fill="#333"/><rect x="654" y="874" width="7.3" height="3" fill="#333"/><rect x="654" y="880" width="7.3" height="3" fill="#333"/></g><g id="fileboxes"><polygon points="905.2,692.2 991.6,709 991.6,896 905.2,899.8" fill="#6aaef2"/><rect x="934" y="739" width="37.2" height="32.4" fill="#eef4fa"/><rect x="958" y="766" width="8" height="2" fill="#e04040"/><rect x="988" y="788" width="3.6" height="18" fill="#888"/><rect x="766" y="700.6" width="40.799999999999955" height="198.0" fill="#1c1e26"/><rect x="805.3" y="700.6" width="1.5" height="198.0" fill="#2f6fc0" opacity="0.8"/><rect x="806.8" y="697" width="42.5" height="202.79999999999995" fill="#4a9aea"/><rect x="847.8" y="697" width="1.5" height="202.79999999999995" fill="#2f6fc0" opacity="0.8"/><rect x="849.3" y="694.6" width="33.10000000000002" height="205.19999999999993" fill="#4a9aea"/><rect x="880.9" y="694.6" width="1.5" height="205.19999999999993" fill="#2f6fc0" opacity="0.8"/><rect x="882.4" y="692.2" width="22.800000000000068" height="207.5999999999999" fill="#4a9aea"/><rect x="903.7" y="692.2" width="1.5" height="207.5999999999999" fill="#2f6fc0" opacity="0.8"/><rect x="773.2" y="719.8" width="24.0" height="93.60000000000002" fill="#f6f6f8"/><rect x="774.4000000000001" y="721.8" width="21.6" height="26.800000000000068" fill="#e8283c"/><text x="785.2" y="732.8" text-anchor="middle" font-family="Liberation Sans" font-size="7.2" fill="#fff">LOGO</text><path transform="translate(781.70,753.60) scale(7.00)" d="M0.53 0.37 L0.53 0.85 M0.33 0.54 L0.66 0.54 M0.17 0.30 L0.17 0.74 M0.32 0.25 L0.32 0.68 M0.30 0.40 L0.77 0.40 M0.1 0.1 L0.9 0.1 M0.1 0.9 L0.9 0.9" fill="none" stroke="#333" stroke-width="0.12" stroke-linecap="square"/><path transform="translate(781.70,762.57) scale(7.00)" d="M0.01 0.23 L0.46 0.23 M0.52 0.19 L0.52 0.55 M0.19 0.07 L0.19 0.54 M0.41 0.21 L0.41 0.59 M0.51 0.35 L0.51 0.87 M0.1 0.1 L0.9 0.1 M0.1 0.9 L0.9 0.9" fill="none" stroke="#333" stroke-width="0.12" stroke-linecap="square"/><path transform="translate(781.70,771.53) scale(7.00)" d="M0.39 0.67 L0.82 0.67 M0.62 0.10 L0.62 0.56 M0.45 0.20 L0.45 0.62 M0.71 0.21 L0.71 0.63 M0.14 0.28 L0.53 0.28 M0.1 0.1 L0.9 0.1 M0.1 0.9 L0.9 0.9" fill="none" stroke="#333" stroke-width="0.12" stroke-linecap="square"/><path transform="translate(781.70,780.50) scale(7.00)" d="M0.38 0.33 L0.74 0.33 M0.21 0.66 L0.63 0.66 M0.20 0.71 L0.67 0.71 M0.18 0.84 L0.64 0.84 M0.27 0.25 L0.68 0.25 M0.1 0.1 L0.9 0.1 M0.1 0.9 L0.9 0.9" fill="none" stroke="#333" stroke-width="0.12" stroke-linecap="square"/><path transform="translate(781.70,789.47) scale(7.00)" d="M0.31 0.03 L0.31 0.61 M0.91 0.37 L0.91 0.89 M0.36 0.02 L0.36 0.53 M0.14 0.04 L0.14 0.53 M0.45 0.00 L0.45 0.31 M0.1 0.1 L0.9 0.1 M0.1 0.9 L0.9 0.9" fill="none" stroke="#333" stroke-width="0.12" stroke-linecap="square"/><path transform="translate(781.70,798.43) scale(7.00)" d="M0.08 0.20 L0.08 0.70 M0.23 0.11 L0.23 0.71 M0.35 0.07 L0.35 0.46 M0.50 0.15 L0.50 0.59 M0.25 0.28 L0.25 0.74 M0.1 0.1 L0.9 0.1 M0.1 0.9 L0.9 0.9" fill="none" stroke="#333" stroke-width="0.12" stroke-linecap="square"/><path transform="translate(779.66,736.50) scale(5.28)" d="M0.14 0.92 L0.47 0.92 M0.76 0.16 L0.76 0.71 M0.08 0.13 L0.44 0.13 M0.60 0.27 L0.60 0.70 M0.30 0.68 L0.86 0.68 M0.1 0.1 L0.9 0.1 M0.1 0.9 L0.9 0.9" fill="none" stroke="#fff" stroke-width="0.12" stroke-linecap="square"/><path transform="translate(785.46,736.50) scale(5.28)" d="M0.72 0.08 L0.72 0.62 M0.39 0.49 L0.81 0.49 M0.38 0.37 L0.38 0.94 M0.45 0.40 L0.45 0.82 M0.73 0.21 L0.73 0.66 M0.1 0.1 L0.9 0.1 M0.1 0.9 L0.9 0.9" fill="none" stroke="#fff" stroke-width="0.12" stroke-linecap="square"/><rect x="812.8" y="716.2" width="27.600000000000023" height="96.0" fill="#f6f6f8"/><rect x="814.0" y="718.2" width="25.200000000000024" height="30.799999999999955" fill="#e8283c"/><text x="826.5999999999999" y="731.0" text-anchor="middle" font-family="Liberation Sans" font-size="8.3" fill="#fff">LOGO</text><path transform="translate(823.10,754.00) scale(7.00)" d="M0.49 0.30 L0.49 0.76 M0.14 0.17 L0.14 0.61 M0.34 0.50 L0.92 0.50 M0.32 0.78 L0.77 0.78 M0.04 0.14 L0.62 0.14 M0.1 0.1 L0.9 0.1 M0.1 0.9 L0.9 0.9" fill="none" stroke="#333" stroke-width="0.12" stroke-linecap="square"/><path transform="translate(823.10,762.70) scale(7.00)" d="M0.65 0.14 L0.65 0.73 M0.43 0.09 L0.43 0.63 M0.02 0.49 L0.56 0.49 M0.74 0.39 L0.74 0.82 M0.68 0.27 L0.68 0.86 M0.1 0.1 L0.9 0.1 M0.1 0.9 L0.9 0.9" fill="none" stroke="#333" stroke-width="0.12" stroke-linecap="square"/><path transform="translate(823.10,771.40) scale(7.00)" d="M0.04 0.3 L0.42 0.3 M0.23 0.04 L0.23 0.96 M0.22 0.36 L0.04 0.72 M0.25 0.42 L0.4 0.56 M0.5 0.08 L0.56 0.2 M0.71 0.02 L0.71 0.26 M0.94 0.08 L0.87 0.2 M0.5 0.36 L0.93 0.36 L0.93 0.93 L0.5 0.93 M0.55 0.64 L0.93 0.64" fill="none" stroke="#333" stroke-width="0.12" stroke-linecap="square"/><path transform="translate(823.10,780.10) scale(7.00)" d="M0.5 0 L0.5 0.1 M0.1 0.25 L0.1 0.13 L0.9 0.13 L0.9 0.25 M0.42 0.18 L0.25 0.5 L0.78 0.5 M0.62 0.26 Q0.56 0.46 0.2 0.6 M0.36 0.36 L0.72 0.58 M0.06 0.7 L0.94 0.7 M0.5 0.56 L0.5 1 M0.47 0.72 L0.12 0.94 M0.53 0.72 L0.88 0.94" fill="none" stroke="#333" stroke-width="0.12" stroke-linecap="square"/><path transform="translate(823.10,788.80) scale(7.00)" d="M0.34 0.61 L0.79 0.61 M0.05 0.72 L0.60 0.72 M0.30 0.08 L0.88 0.08 M0.15 0.53 L0.55 0.53 M0.42 0.25 L0.42 0.78 M0.1 0.1 L0.9 0.1 M0.1 0.9 L0.9 0.9" fill="none" stroke="#333" stroke-width="0.12" stroke-linecap="square"/><path transform="translate(823.10,797.50) scale(7.00)" d="M0.41 0.12 L0.41 0.60 M0.80 0.32 L0.80 0.70 M0.08 0.51 L0.44 0.51 M0.26 0.08 L0.79 0.08 M0.79 0.15 L0.79 0.53 M0.1 0.1 L0.9 0.1 M0.1 0.9 L0.9 0.9" fill="none" stroke="#333" stroke-width="0.12" stroke-linecap="square"/><path transform="translate(820.22,735.22) scale(6.07)" d="M0.14 0.92 L0.47 0.92 M0.76 0.16 L0.76 0.71 M0.08 0.13 L0.44 0.13 M0.60 0.27 L0.60 0.70 M0.30 0.68 L0.86 0.68 M0.1 0.1 L0.9 0.1 M0.1 0.9 L0.9 0.9" fill="none" stroke="#fff" stroke-width="0.12" stroke-linecap="square"/><path transform="translate(826.90,735.22) scale(6.07)" d="M0.72 0.08 L0.72 0.62 M0.39 0.49 L0.81 0.49 M0.38 0.37 L0.38 0.94 M0.45 0.40 L0.45 0.82 M0.73 0.21 L0.73 0.66 M0.1 0.1 L0.9 0.1 M0.1 0.9 L0.9 0.9" fill="none" stroke="#fff" stroke-width="0.12" stroke-linecap="square"/><rect x="854.8" y="713.8" width="19.90000000000009" height="98.40000000000009" fill="#f6f6f8"/><rect x="856.0" y="715.8" width="17.500000000000092" height="22.0" fill="#e8283c"/><text x="864.75" y="724.6" text-anchor="middle" font-family="Liberation Sans" font-size="6.0" fill="#fff">LOGO</text><path transform="translate(861.25,742.80) scale(7.00)" d="M0.38 0.13 L0.38 0.61 M0.36 0.62 L0.78 0.62 M0.22 0.95 L0.81 0.95 M0.46 0.29 L0.46 0.67 M0.34 0.37 L0.34 0.93 M0.1 0.1 L0.9 0.1 M0.1 0.9 L0.9 0.9" fill="none" stroke="#333" stroke-width="0.12" stroke-linecap="square"/><path transform="translate(861.25,753.37) scale(7.00)" d="M0.35 0.34 L0.66 0.34 M0.54 0.22 L0.54 0.53 M0.23 0.20 L0.64 0.20 M0.06 0.04 L0.06 0.64 M0.51 0.11 L0.51 0.63 M0.1 0.1 L0.9 0.1 M0.1 0.9 L0.9 0.9" fill="none" stroke="#333" stroke-width="0.12" stroke-linecap="square"/><path transform="translate(861.25,763.93) scale(7.00)" d="M0.36 0.57 L0.93 0.57 M0.20 0.08 L0.54 0.08 M0.10 0.26 L0.10 0.63 M0.17 0.09 L0.49 0.09 M0.21 0.69 L0.63 0.69 M0.1 0.1 L0.9 0.1 M0.1 0.9 L0.9 0.9" fill="none" stroke="#333" stroke-width="0.12" stroke-linecap="square"/><path transform="translate(861.25,774.50) scale(7.00)" d="M0.33 0.23 L0.33 0.82 M0.84 0.17 L0.84 0.52 M0.70 0.13 L0.70 0.69 M0.16 0.27 L0.55 0.27 M0.67 0.32 L0.67 0.65 M0.1 0.1 L0.9 0.1 M0.1 0.9 L0.9 0.9" fill="none" stroke="#333" stroke-width="0.12" stroke-linecap="square"/><path transform="translate(861.25,785.07) scale(7.00)" d="M0.34 0.34 L0.34 0.71 M0.28 0.26 L0.28 0.59 M0.72 0.17 L0.72 0.75 M0.89 0.26 L0.89 0.63 M0.32 0.19 L0.90 0.19 M0.1 0.1 L0.9 0.1 M0.1 0.9 L0.9 0.9" fill="none" stroke="#333" stroke-width="0.12" stroke-linecap="square"/><path transform="translate(861.25,795.63) scale(7.00)" d="M0.03 0.50 L0.40 0.50 M0.90 0.26 L0.90 0.75 M0.23 0.68 L0.68 0.68 M0.12 0.14 L0.57 0.14 M0.39 0.81 L0.82 0.81 M0.1 0.1 L0.9 0.1 M0.1 0.9 L0.9 0.9" fill="none" stroke="#333" stroke-width="0.12" stroke-linecap="square"/><path transform="translate(860.15,727.72) scale(4.38)" d="M0.14 0.92 L0.47 0.92 M0.76 0.16 L0.76 0.71 M0.08 0.13 L0.44 0.13 M0.60 0.27 L0.60 0.70 M0.30 0.68 L0.86 0.68 M0.1 0.1 L0.9 0.1 M0.1 0.9 L0.9 0.9" fill="none" stroke="#fff" stroke-width="0.12" stroke-linecap="square"/><path transform="translate(864.97,727.72) scale(4.38)" d="M0.72 0.08 L0.72 0.62 M0.39 0.49 L0.81 0.49 M0.38 0.37 L0.38 0.94 M0.45 0.40 L0.45 0.82 M0.73 0.21 L0.73 0.66 M0.1 0.1 L0.9 0.1 M0.1 0.9 L0.9 0.9" fill="none" stroke="#fff" stroke-width="0.12" stroke-linecap="square"/><rect x="885.3" y="712.6" width="15.100000000000023" height="99.60000000000002" fill="#f6f6f8"/><rect x="886.5" y="714.6" width="12.700000000000022" height="17.199999999999932" fill="#e8283c"/><text x="892.8499999999999" y="721.2" text-anchor="middle" font-family="Liberation Sans" font-size="4.5" fill="#fff">LOGO</text><path transform="translate(889.35,736.80) scale(7.00)" d="M0.05 0.28 L0.36 0.28 M0.31 0.40 L0.31 0.85 M0.22 0.36 L0.22 0.85 M0.19 0.91 L0.68 0.91 M0.75 0.31 L0.75 0.88 M0.1 0.1 L0.9 0.1 M0.1 0.9 L0.9 0.9" fill="none" stroke="#333" stroke-width="0.12" stroke-linecap="square"/><path transform="translate(889.35,745.47) scale(7.00)" d="M0.31 0.44 L0.90 0.44 M0.11 0.23 L0.64 0.23 M0.28 0.23 L0.81 0.23 M0.29 0.49 L0.78 0.49 M0.42 0.01 L0.42 0.53 M0.1 0.1 L0.9 0.1 M0.1 0.9 L0.9 0.9" fill="none" stroke="#333" stroke-width="0.12" stroke-linecap="square"/><path transform="translate(889.35,754.15) scale(7.00)" d="M0.27 0.55 L0.59 0.55 M0.38 0.46 L0.87 0.46 M0.19 0.52 L0.66 0.52 M0.36 0.84 L0.84 0.84 M0.89 0.05 L0.89 0.46 M0.1 0.1 L0.9 0.1 M0.1 0.9 L0.9 0.9" fill="none" stroke="#333" stroke-width="0.12" stroke-linecap="square"/><path transform="translate(889.35,762.83) scale(7.00)" d="M0.05 0.20 L0.05 0.75 M0.06 0.18 L0.06 0.58 M0.60 0.25 L0.60 0.58 M0.78 0.29 L0.78 0.67 M0.72 0.08 L0.72 0.44 M0.1 0.1 L0.9 0.1 M0.1 0.9 L0.9 0.9" fill="none" stroke="#333" stroke-width="0.12" stroke-linecap="square"/><path transform="translate(889.35,771.50) scale(7.00)" d="M0.34 0.34 L0.34 0.71 M0.28 0.26 L0.28 0.59 M0.72 0.17 L0.72 0.75 M0.89 0.26 L0.89 0.63 M0.32 0.19 L0.90 0.19 M0.1 0.1 L0.9 0.1 M0.1 0.9 L0.9 0.9" fill="none" stroke="#333" stroke-width="0.12" stroke-linecap="square"/><path transform="translate(889.35,780.17) scale(7.00)" d="M0.03 0.50 L0.40 0.50 M0.90 0.26 L0.90 0.75 M0.23 0.68 L0.68 0.68 M0.12 0.14 L0.57 0.14 M0.39 0.81 L0.82 0.81 M0.1 0.1 L0.9 0.1 M0.1 0.9 L0.9 0.9" fill="none" stroke="#333" stroke-width="0.12" stroke-linecap="square"/><path transform="translate(889.35,788.85) scale(7.00)" d="M0.32 0.36 L0.32 0.91 M0.18 0.28 L0.51 0.28 M0.45 0.03 L0.45 0.38 M0.07 0.40 L0.38 0.40 M0.16 0.65 L0.57 0.65 M0.1 0.1 L0.9 0.1 M0.1 0.9 L0.9 0.9" fill="none" stroke="#333" stroke-width="0.12" stroke-linecap="square"/><path transform="translate(889.35,797.53) scale(7.00)" d="M0.30 0.95 L0.69 0.95 M0.33 0.11 L0.65 0.11 M0.20 0.35 L0.61 0.35 M0.94 0.32 L0.94 0.72 M0.37 0.12 L0.68 0.12 M0.1 0.1 L0.9 0.1 M0.1 0.9 L0.9 0.9" fill="none" stroke="#333" stroke-width="0.12" stroke-linecap="square"/><path transform="translate(889.36,723.74) scale(3.32)" d="M0.14 0.92 L0.47 0.92 M0.76 0.16 L0.76 0.71 M0.08 0.13 L0.44 0.13 M0.60 0.27 L0.60 0.70 M0.30 0.68 L0.86 0.68 M0.1 0.1 L0.9 0.1 M0.1 0.9 L0.9 0.9" fill="none" stroke="#fff" stroke-width="0.12" stroke-linecap="square"/><path transform="translate(893.02,723.74) scale(3.32)" d="M0.72 0.08 L0.72 0.62 M0.39 0.49 L0.81 0.49 M0.38 0.37 L0.38 0.94 M0.45 0.40 L0.45 0.82 M0.73 0.21 L0.73 0.66 M0.1 0.1 L0.9 0.1 M0.1 0.9 L0.9 0.9" fill="none" stroke="#fff" stroke-width="0.12" stroke-linecap="square"/><ellipse cx="784.5" cy="848.2" rx="7" ry="9.6" fill="#0c1028"/><ellipse cx="827.2" cy="848.2" rx="7" ry="9.6" fill="#0c1028"/><ellipse cx="865.6" cy="848.2" rx="7" ry="9.6" fill="#0c1028"/><ellipse cx="893.2" cy="848.2" rx="7" ry="9.6" fill="#0c1028"/></g>
<rect x="0" y="237" width="1000" height="4" fill="#c80c44"/>
<rect x="0" y="457" width="1000" height="4" fill="#c80c44"/>
<rect x="0" y="677" width="1000" height="4" fill="#c80c44"/>
<g font-family="Liberation Sans" font-weight="bold" fill="#000" stroke="#fff" stroke-width="0.22">
<text x="181.30" y="228" font-size="16" textLength="117.60" lengthAdjust="spacing">Office gel pen</text><text x="338.20" y="228" font-size="16" textLength="85.90" lengthAdjust="spacing">calculator</text><text x="457.84" y="228" font-size="16" textLength="95.16" lengthAdjust="spacing">marker pen</text><text x="596.50" y="228" font-size="16" textLength="152.50" lengthAdjust="spacing">Leather notebook</text><text x="806.40" y="228" font-size="16" textLength="181.40" lengthAdjust="spacing">Hard shell file clamp.</text><text x="29.40" y="444.5" font-size="16" textLength="74.60" lengthAdjust="spacing">Scissors</text><text x="124.20" y="444.5" font-size="16" textLength="198.70" lengthAdjust="spacing">Transparent A4 file bag</text><text x="346.30" y="444.5" font-size="16" textLength="101.60" lengthAdjust="spacing">24/6 staples</text><text x="492.40" y="444.5" font-size="16" textLength="108.04" lengthAdjust="spacing">Drawbar clip</text><text x="644.96" y="444.5" font-size="16" textLength="85.48" lengthAdjust="spacing">nail puller</text><text x="753.86" y="444.5" font-size="13" textLength="136.46" lengthAdjust="spacing">A4 printing paper</text><text x="918.76" y="444.5" font-size="16" textLength="79.24" lengthAdjust="spacing">file cover</text><text x="8.40" y="666.7" font-size="15" textLength="144.90" lengthAdjust="spacing">Simple pen holder</text><text x="176.50" y="666.7" font-size="15" textLength="151.72" lengthAdjust="spacing">Long tail wallet set</text><text x="355.30" y="666.7" font-size="15" textLength="92.80" lengthAdjust="spacing">24/6 stapler</text><text x="542.76" y="666.7" font-size="16" textLength="33.12" lengthAdjust="spacing">tray</text><text x="649.84" y="666.7" font-size="16" textLength="89.52" lengthAdjust="spacing">stamp pad</text><text x="768.64" y="666.7" font-size="16" textLength="89.36" lengthAdjust="spacing">Oral paper</text><text x="890.84" y="666.7" font-size="16" textLength="94.84" lengthAdjust="spacing">sticky note</text><text x="49.52" y="932.5" font-size="15" textLength="155.48" lengthAdjust="spacing">Quadruple file box</text><text x="334.20" y="932.5" font-size="15" textLength="207.92" lengthAdjust="spacing">A4 folder (double folder)</text><text x="565.40" y="932.5" font-size="15" textLength="220.60" lengthAdjust="spacing">Inserted information book</text><text x="841.20" y="932.5" font-size="15" textLength="61.80" lengthAdjust="spacing">file box</text>
</g>
<path d="M10 88 L91 88 L91 60 L163 116 L91 172 L91 143 L10 143 Z" fill="#f70d0d"/>
<g font-family="Liberation Sans" font-weight="bold" font-size="20" fill="#fff">
<text x="17.5" y="110.3" textLength="102" lengthAdjust="spacing">One stop</text>
<text x="17.5" y="134.6" textLength="107" lengthAdjust="spacing">Shopping</text>
</g>
</svg>
</body></html>
